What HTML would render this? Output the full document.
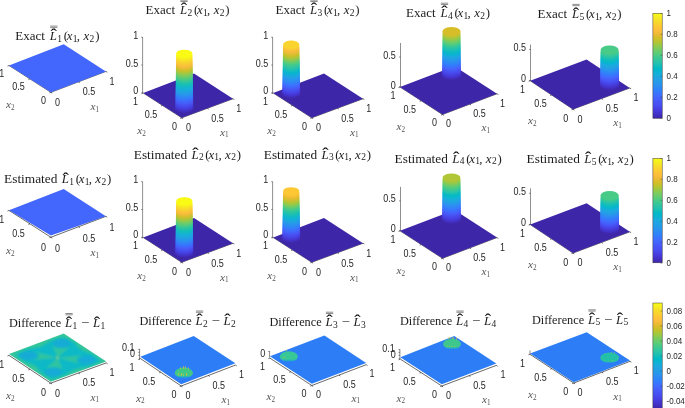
<!DOCTYPE html>
<html><head><meta charset="utf-8"><title>Exact, estimated and difference surfaces</title>
<style>
html,body{margin:0;padding:0;background:#fff;}
body{width:685px;height:408px;overflow:hidden;}
svg{display:block;}
.tk{font-family:"Liberation Sans",sans-serif;font-size:10.4px;fill:#262626;}
.cb{font-family:"Liberation Sans",sans-serif;font-size:9.4px;fill:#262626;}
.xl{font-family:"Liberation Serif",serif;font-size:11.2px;fill:#555;}
.it{font-style:italic;}
.sb{font-size:7.2px;font-style:normal;}
.ti{font-family:"Liberation Serif",serif;font-size:12.8px;fill:#1c1c1c;}
.tsb{font-family:"Liberation Serif",serif;font-size:9.5px;fill:#1c1c1c;font-style:normal;}
.hat{font-family:"Liberation Serif",serif;font-size:12.8px;fill:#000;}
</style></head><body>
<svg width="685" height="408" viewBox="0 0 685 408">
<defs><filter id="bl2" x="-10%" y="-30%" width="120%" height="160%"><feGaussianBlur stdDeviation="0.35"/></filter><filter id="bl" x="-5%" y="-5%" width="110%" height="110%"><feGaussianBlur stdDeviation="0.9"/></filter>
<linearGradient id="g1" x1="0" y1="0" x2="0" y2="1"><stop offset="0" stop-color="#f9fb15"/><stop offset="0.08" stop-color="#f7db2b"/><stop offset="0.17" stop-color="#fbbc3d"/><stop offset="0.25" stop-color="#c8c129"/><stop offset="0.33" stop-color="#81cc59"/><stop offset="0.42" stop-color="#3dc990"/><stop offset="0.5" stop-color="#12beb9"/><stop offset="0.58" stop-color="#17aeda"/><stop offset="0.67" stop-color="#2797eb"/><stop offset="0.75" stop-color="#347afd"/><stop offset="0.83" stop-color="#475bf9"/><stop offset="0.92" stop-color="#463de0"/><stop offset="1" stop-color="#3e26a8"/></linearGradient>
<linearGradient id="g1b" gradientUnits="userSpaceOnUse" x1="0" y1="55.94" x2="0" y2="111.63"><stop offset="0" stop-color="#f9fb15"/><stop offset="0.08" stop-color="#f7db2b"/><stop offset="0.17" stop-color="#fbbc3d"/><stop offset="0.25" stop-color="#c8c129"/><stop offset="0.33" stop-color="#81cc59"/><stop offset="0.42" stop-color="#3dc990"/><stop offset="0.5" stop-color="#12beb9"/><stop offset="0.58" stop-color="#17aeda"/><stop offset="0.67" stop-color="#2797eb"/><stop offset="0.75" stop-color="#347afd"/><stop offset="0.83" stop-color="#475bf9"/><stop offset="0.92" stop-color="#463de0"/><stop offset="1" stop-color="#3e26a8"/></linearGradient>
<linearGradient id="g2" x1="0" y1="0" x2="0" y2="1"><stop offset="0" stop-color="#fad42e"/><stop offset="0.08" stop-color="#f8ba3d"/><stop offset="0.17" stop-color="#c8c129"/><stop offset="0.25" stop-color="#88cb53"/><stop offset="0.33" stop-color="#48cb86"/><stop offset="0.42" stop-color="#24c2ae"/><stop offset="0.5" stop-color="#05b6ce"/><stop offset="0.58" stop-color="#21a3e3"/><stop offset="0.67" stop-color="#2d8cf3"/><stop offset="0.75" stop-color="#3d70ff"/><stop offset="0.83" stop-color="#4755f6"/><stop offset="0.92" stop-color="#463adc"/><stop offset="1" stop-color="#3e26a8"/></linearGradient>
<linearGradient id="g2b" gradientUnits="userSpaceOnUse" x1="0" y1="46.74" x2="0" y2="96.75"><stop offset="0" stop-color="#fad42e"/><stop offset="0.08" stop-color="#f8ba3d"/><stop offset="0.17" stop-color="#c8c129"/><stop offset="0.25" stop-color="#88cb53"/><stop offset="0.33" stop-color="#48cb86"/><stop offset="0.42" stop-color="#24c2ae"/><stop offset="0.5" stop-color="#05b6ce"/><stop offset="0.58" stop-color="#21a3e3"/><stop offset="0.67" stop-color="#2d8cf3"/><stop offset="0.75" stop-color="#3d70ff"/><stop offset="0.83" stop-color="#4755f6"/><stop offset="0.92" stop-color="#463adc"/><stop offset="1" stop-color="#3e26a8"/></linearGradient>
<linearGradient id="g3" x1="0" y1="0" x2="0" y2="1"><stop offset="0" stop-color="#d7be28"/><stop offset="0.08" stop-color="#a4c83e"/><stop offset="0.17" stop-color="#6acd6a"/><stop offset="0.25" stop-color="#3ac994"/><stop offset="0.33" stop-color="#1cc0b3"/><stop offset="0.42" stop-color="#06b6ce"/><stop offset="0.5" stop-color="#1fa6e2"/><stop offset="0.58" stop-color="#2a93ee"/><stop offset="0.67" stop-color="#317dfc"/><stop offset="0.75" stop-color="#4564fd"/><stop offset="0.83" stop-color="#484df0"/><stop offset="0.92" stop-color="#4537d6"/><stop offset="1" stop-color="#3e26a8"/></linearGradient>
<linearGradient id="g3b" gradientUnits="userSpaceOnUse" x1="0" y1="33.72" x2="0" y2="78.56"><stop offset="0" stop-color="#d7be28"/><stop offset="0.08" stop-color="#a4c83e"/><stop offset="0.17" stop-color="#6acd6a"/><stop offset="0.25" stop-color="#3ac994"/><stop offset="0.33" stop-color="#1cc0b3"/><stop offset="0.42" stop-color="#06b6ce"/><stop offset="0.5" stop-color="#1fa6e2"/><stop offset="0.58" stop-color="#2a93ee"/><stop offset="0.67" stop-color="#317dfc"/><stop offset="0.75" stop-color="#4564fd"/><stop offset="0.83" stop-color="#484df0"/><stop offset="0.92" stop-color="#4537d6"/><stop offset="1" stop-color="#3e26a8"/></linearGradient>
<linearGradient id="g4" x1="0" y1="0" x2="0" y2="1"><stop offset="0" stop-color="#48cb86"/><stop offset="0.08" stop-color="#2fc5a2"/><stop offset="0.17" stop-color="#12beb9"/><stop offset="0.25" stop-color="#05b6ce"/><stop offset="0.33" stop-color="#1caadf"/><stop offset="0.42" stop-color="#259ce7"/><stop offset="0.5" stop-color="#2d8cf3"/><stop offset="0.58" stop-color="#347afd"/><stop offset="0.67" stop-color="#4367fd"/><stop offset="0.75" stop-color="#4755f6"/><stop offset="0.83" stop-color="#4743e7"/><stop offset="0.92" stop-color="#4433cc"/><stop offset="1" stop-color="#3e26a8"/></linearGradient>
<linearGradient id="g4b" gradientUnits="userSpaceOnUse" x1="0" y1="52.38" x2="0" y2="88.49"><stop offset="0" stop-color="#48cb86"/><stop offset="0.08" stop-color="#2fc5a2"/><stop offset="0.17" stop-color="#12beb9"/><stop offset="0.25" stop-color="#05b6ce"/><stop offset="0.33" stop-color="#1caadf"/><stop offset="0.42" stop-color="#259ce7"/><stop offset="0.5" stop-color="#2d8cf3"/><stop offset="0.58" stop-color="#347afd"/><stop offset="0.67" stop-color="#4367fd"/><stop offset="0.75" stop-color="#4755f6"/><stop offset="0.83" stop-color="#4743e7"/><stop offset="0.92" stop-color="#4433cc"/><stop offset="1" stop-color="#3e26a8"/></linearGradient>
<linearGradient id="g5" gradientUnits="userSpaceOnUse" x1="0" y1="13.3" x2="0" y2="118.3"><stop offset="0" stop-color="#f9fb15"/><stop offset="0.03" stop-color="#f6ef20"/><stop offset="0.06" stop-color="#f5e327"/><stop offset="0.09" stop-color="#f9d62d"/><stop offset="0.12" stop-color="#feca33"/><stop offset="0.16" stop-color="#febe3c"/><stop offset="0.19" stop-color="#f1ba37"/><stop offset="0.22" stop-color="#debc2a"/><stop offset="0.25" stop-color="#c8c129"/><stop offset="0.28" stop-color="#afc637"/><stop offset="0.31" stop-color="#94ca4a"/><stop offset="0.34" stop-color="#77cc60"/><stop offset="0.38" stop-color="#5ccc76"/><stop offset="0.41" stop-color="#44ca8a"/><stop offset="0.44" stop-color="#34c79c"/><stop offset="0.47" stop-color="#28c2ab"/><stop offset="0.5" stop-color="#12beb9"/><stop offset="0.53" stop-color="#01b9c6"/><stop offset="0.56" stop-color="#0cb3d3"/><stop offset="0.59" stop-color="#1aacdd"/><stop offset="0.62" stop-color="#21a3e3"/><stop offset="0.66" stop-color="#269ae9"/><stop offset="0.69" stop-color="#2c90f0"/><stop offset="0.72" stop-color="#2e85f8"/><stop offset="0.75" stop-color="#347afd"/><stop offset="0.78" stop-color="#3f6efe"/><stop offset="0.81" stop-color="#4562fc"/><stop offset="0.84" stop-color="#4757f7"/><stop offset="0.88" stop-color="#484cef"/><stop offset="0.91" stop-color="#4741e5"/><stop offset="0.94" stop-color="#4536d5"/><stop offset="0.97" stop-color="#422ebf"/><stop offset="1" stop-color="#3e26a8"/></linearGradient>
<linearGradient id="g6" x1="0" y1="0" x2="0" y2="1"><stop offset="0" stop-color="#f9fb15"/><stop offset="0.08" stop-color="#f7db2b"/><stop offset="0.17" stop-color="#fbbc3d"/><stop offset="0.25" stop-color="#c8c129"/><stop offset="0.33" stop-color="#81cc59"/><stop offset="0.42" stop-color="#3dc990"/><stop offset="0.5" stop-color="#12beb9"/><stop offset="0.58" stop-color="#17aeda"/><stop offset="0.67" stop-color="#2797eb"/><stop offset="0.75" stop-color="#347afd"/><stop offset="0.83" stop-color="#475bf9"/><stop offset="0.92" stop-color="#463de0"/><stop offset="1" stop-color="#3e26a8"/></linearGradient>
<linearGradient id="g6b" gradientUnits="userSpaceOnUse" x1="0" y1="203.44" x2="0" y2="256.13"><stop offset="0" stop-color="#f9fb15"/><stop offset="0.08" stop-color="#f7db2b"/><stop offset="0.17" stop-color="#fbbc3d"/><stop offset="0.25" stop-color="#c8c129"/><stop offset="0.33" stop-color="#81cc59"/><stop offset="0.42" stop-color="#3dc990"/><stop offset="0.5" stop-color="#12beb9"/><stop offset="0.58" stop-color="#17aeda"/><stop offset="0.67" stop-color="#2797eb"/><stop offset="0.75" stop-color="#347afd"/><stop offset="0.83" stop-color="#475bf9"/><stop offset="0.92" stop-color="#463de0"/><stop offset="1" stop-color="#3e26a8"/></linearGradient>
<linearGradient id="g7" x1="0" y1="0" x2="0" y2="1"><stop offset="0" stop-color="#fec835"/><stop offset="0.08" stop-color="#e9bb2f"/><stop offset="0.17" stop-color="#b4c533"/><stop offset="0.25" stop-color="#73cd63"/><stop offset="0.33" stop-color="#3bc992"/><stop offset="0.42" stop-color="#18bfb6"/><stop offset="0.5" stop-color="#0eb3d4"/><stop offset="0.58" stop-color="#249fe5"/><stop offset="0.67" stop-color="#2d88f6"/><stop offset="0.75" stop-color="#3f6dfe"/><stop offset="0.83" stop-color="#4853f5"/><stop offset="0.92" stop-color="#463ada"/><stop offset="1" stop-color="#3e26a8"/></linearGradient>
<linearGradient id="g7b" gradientUnits="userSpaceOnUse" x1="0" y1="193.44" x2="0" y2="241.25"><stop offset="0" stop-color="#fec835"/><stop offset="0.08" stop-color="#e9bb2f"/><stop offset="0.17" stop-color="#b4c533"/><stop offset="0.25" stop-color="#73cd63"/><stop offset="0.33" stop-color="#3bc992"/><stop offset="0.42" stop-color="#18bfb6"/><stop offset="0.5" stop-color="#0eb3d4"/><stop offset="0.58" stop-color="#249fe5"/><stop offset="0.67" stop-color="#2d88f6"/><stop offset="0.75" stop-color="#3f6dfe"/><stop offset="0.83" stop-color="#4853f5"/><stop offset="0.92" stop-color="#463ada"/><stop offset="1" stop-color="#3e26a8"/></linearGradient>
<linearGradient id="g8" x1="0" y1="0" x2="0" y2="1"><stop offset="0" stop-color="#b0c636"/><stop offset="0.08" stop-color="#7acc5d"/><stop offset="0.17" stop-color="#48cb86"/><stop offset="0.25" stop-color="#2cc4a7"/><stop offset="0.33" stop-color="#04bbc2"/><stop offset="0.42" stop-color="#15afd9"/><stop offset="0.5" stop-color="#249fe6"/><stop offset="0.58" stop-color="#2d8cf3"/><stop offset="0.67" stop-color="#3876fe"/><stop offset="0.75" stop-color="#465ffb"/><stop offset="0.83" stop-color="#484aee"/><stop offset="0.92" stop-color="#4536d3"/><stop offset="1" stop-color="#3e26a8"/></linearGradient>
<linearGradient id="g8b" gradientUnits="userSpaceOnUse" x1="0" y1="180.22" x2="0" y2="222.36"><stop offset="0" stop-color="#b0c636"/><stop offset="0.08" stop-color="#7acc5d"/><stop offset="0.17" stop-color="#48cb86"/><stop offset="0.25" stop-color="#2cc4a7"/><stop offset="0.33" stop-color="#04bbc2"/><stop offset="0.42" stop-color="#15afd9"/><stop offset="0.5" stop-color="#249fe6"/><stop offset="0.58" stop-color="#2d8cf3"/><stop offset="0.67" stop-color="#3876fe"/><stop offset="0.75" stop-color="#465ffb"/><stop offset="0.83" stop-color="#484aee"/><stop offset="0.92" stop-color="#4536d3"/><stop offset="1" stop-color="#3e26a8"/></linearGradient>
<linearGradient id="g9" x1="0" y1="0" x2="0" y2="1"><stop offset="0" stop-color="#48cb86"/><stop offset="0.08" stop-color="#2fc5a2"/><stop offset="0.17" stop-color="#12beb9"/><stop offset="0.25" stop-color="#05b6ce"/><stop offset="0.33" stop-color="#1caadf"/><stop offset="0.42" stop-color="#259ce7"/><stop offset="0.5" stop-color="#2d8cf3"/><stop offset="0.58" stop-color="#347afd"/><stop offset="0.67" stop-color="#4367fd"/><stop offset="0.75" stop-color="#4755f6"/><stop offset="0.83" stop-color="#4743e7"/><stop offset="0.92" stop-color="#4433cc"/><stop offset="1" stop-color="#3e26a8"/></linearGradient>
<linearGradient id="g9b" gradientUnits="userSpaceOnUse" x1="0" y1="197.88" x2="0" y2="232.34"><stop offset="0" stop-color="#48cb86"/><stop offset="0.08" stop-color="#2fc5a2"/><stop offset="0.17" stop-color="#12beb9"/><stop offset="0.25" stop-color="#05b6ce"/><stop offset="0.33" stop-color="#1caadf"/><stop offset="0.42" stop-color="#259ce7"/><stop offset="0.5" stop-color="#2d8cf3"/><stop offset="0.58" stop-color="#347afd"/><stop offset="0.67" stop-color="#4367fd"/><stop offset="0.75" stop-color="#4755f6"/><stop offset="0.83" stop-color="#4743e7"/><stop offset="0.92" stop-color="#4433cc"/><stop offset="1" stop-color="#3e26a8"/></linearGradient>
<linearGradient id="g10" gradientUnits="userSpaceOnUse" x1="0" y1="158.3" x2="0" y2="262.8"><stop offset="0" stop-color="#f9fb15"/><stop offset="0.03" stop-color="#f6ef20"/><stop offset="0.06" stop-color="#f5e327"/><stop offset="0.09" stop-color="#f9d62d"/><stop offset="0.12" stop-color="#feca33"/><stop offset="0.16" stop-color="#febe3c"/><stop offset="0.19" stop-color="#f1ba37"/><stop offset="0.22" stop-color="#debc2a"/><stop offset="0.25" stop-color="#c8c129"/><stop offset="0.28" stop-color="#afc637"/><stop offset="0.31" stop-color="#94ca4a"/><stop offset="0.34" stop-color="#77cc60"/><stop offset="0.38" stop-color="#5ccc76"/><stop offset="0.41" stop-color="#44ca8a"/><stop offset="0.44" stop-color="#34c79c"/><stop offset="0.47" stop-color="#28c2ab"/><stop offset="0.5" stop-color="#12beb9"/><stop offset="0.53" stop-color="#01b9c6"/><stop offset="0.56" stop-color="#0cb3d3"/><stop offset="0.59" stop-color="#1aacdd"/><stop offset="0.62" stop-color="#21a3e3"/><stop offset="0.66" stop-color="#269ae9"/><stop offset="0.69" stop-color="#2c90f0"/><stop offset="0.72" stop-color="#2e85f8"/><stop offset="0.75" stop-color="#347afd"/><stop offset="0.78" stop-color="#3f6efe"/><stop offset="0.81" stop-color="#4562fc"/><stop offset="0.84" stop-color="#4757f7"/><stop offset="0.88" stop-color="#484cef"/><stop offset="0.91" stop-color="#4741e5"/><stop offset="0.94" stop-color="#4536d5"/><stop offset="0.97" stop-color="#422ebf"/><stop offset="1" stop-color="#3e26a8"/></linearGradient>
<clipPath id="cp1"><polygon points="9,354 63.75,333.5 106.25,361.5 50.75,381.75"/></clipPath>
<linearGradient id="g11" x1="0" y1="0" x2="0" y2="1"><stop offset="0" stop-color="#41c886"/><stop offset="0.74" stop-color="#41c886"/><stop offset="0.87" stop-color="#22b4bf"/><stop offset="1" stop-color="#2d7ef6"/></linearGradient>
<linearGradient id="g12" x1="0" y1="0" x2="0" y2="1"><stop offset="0" stop-color="#38c796"/><stop offset="0.74" stop-color="#38c796"/><stop offset="0.87" stop-color="#22b4bf"/><stop offset="1" stop-color="#2d7ef6"/></linearGradient>
<linearGradient id="g13" x1="0" y1="0" x2="0" y2="1"><stop offset="0" stop-color="#3ec78c"/><stop offset="0.74" stop-color="#3ec78c"/><stop offset="0.87" stop-color="#22b4bf"/><stop offset="1" stop-color="#2d7ef6"/></linearGradient>
<linearGradient id="g14" x1="0" y1="0" x2="0" y2="1"><stop offset="0" stop-color="#24c0a9"/><stop offset="0.79" stop-color="#24c0a9"/><stop offset="0.89" stop-color="#22b4bf"/><stop offset="1" stop-color="#2d7ef6"/></linearGradient>
<linearGradient id="g15" gradientUnits="userSpaceOnUse" x1="0" y1="303" x2="0" y2="408.5"><stop offset="0" stop-color="#f9fb15"/><stop offset="0.03" stop-color="#f6ef20"/><stop offset="0.06" stop-color="#f5e327"/><stop offset="0.09" stop-color="#f9d62d"/><stop offset="0.12" stop-color="#feca33"/><stop offset="0.16" stop-color="#febe3c"/><stop offset="0.19" stop-color="#f1ba37"/><stop offset="0.22" stop-color="#debc2a"/><stop offset="0.25" stop-color="#c8c129"/><stop offset="0.28" stop-color="#afc637"/><stop offset="0.31" stop-color="#94ca4a"/><stop offset="0.34" stop-color="#77cc60"/><stop offset="0.38" stop-color="#5ccc76"/><stop offset="0.41" stop-color="#44ca8a"/><stop offset="0.44" stop-color="#34c79c"/><stop offset="0.47" stop-color="#28c2ab"/><stop offset="0.5" stop-color="#12beb9"/><stop offset="0.53" stop-color="#01b9c6"/><stop offset="0.56" stop-color="#0cb3d3"/><stop offset="0.59" stop-color="#1aacdd"/><stop offset="0.62" stop-color="#21a3e3"/><stop offset="0.66" stop-color="#269ae9"/><stop offset="0.69" stop-color="#2c90f0"/><stop offset="0.72" stop-color="#2e85f8"/><stop offset="0.75" stop-color="#347afd"/><stop offset="0.78" stop-color="#3f6efe"/><stop offset="0.81" stop-color="#4562fc"/><stop offset="0.84" stop-color="#4757f7"/><stop offset="0.88" stop-color="#484cef"/><stop offset="0.91" stop-color="#4741e5"/><stop offset="0.94" stop-color="#4536d5"/><stop offset="0.97" stop-color="#422ebf"/><stop offset="1" stop-color="#3e26a8"/></linearGradient>
</defs>
<rect x="0" y="0" width="685" height="408" fill="#fff"/>
<text x="15.35" y="39.9" class="ti" textLength="29.5" lengthAdjust="spacingAndGlyphs">Exact</text><text x="49.85" y="39.9" class="ti it">L</text><text class="hat" text-anchor="middle" transform="translate(53.75 40.3) scale(1.5 1.3)">ˆ</text><line x1="50.15" y1="27.4" x2="57.45" y2="27.4" stroke="#000" stroke-width="0.45"/><line x1="50.15" y1="26.1" x2="57.45" y2="26.1" stroke="#000" stroke-width="0.45"/><text x="57.35" y="41.7" class="tsb">1</text><text x="63.75" y="39.9" class="ti">(</text><text x="66.85" y="39.9" class="ti it">x</text><text x="72.75" y="41.6" class="tsb">1</text><text x="76.85" y="39.9" class="ti">,</text><text x="83.45" y="39.9" class="ti it">x</text><text x="89.55" y="41.6" class="tsb">2</text><text x="95.15" y="39.9" class="ti">)</text>
<line x1="9" y1="65.5" x2="50.9" y2="92.3" stroke="#2a2a2a" stroke-width="0.7"/>
<line x1="50.9" y1="92.3" x2="105.9" y2="71.4" stroke="#2a2a2a" stroke-width="0.7"/>
<line x1="50.9" y1="92.3" x2="52.25" y2="93.16" stroke="#2a2a2a" stroke-width="0.7"/>
<line x1="50.9" y1="92.3" x2="49.4" y2="92.87" stroke="#2a2a2a" stroke-width="0.7"/>
<line x1="78.4" y1="81.85" x2="79.75" y2="82.71" stroke="#2a2a2a" stroke-width="0.7"/>
<line x1="29.95" y1="78.9" x2="28.45" y2="79.47" stroke="#2a2a2a" stroke-width="0.7"/>
<line x1="105.9" y1="71.4" x2="107.25" y2="72.26" stroke="#2a2a2a" stroke-width="0.7"/>
<line x1="9" y1="65.5" x2="7.5" y2="66.07" stroke="#2a2a2a" stroke-width="0.7"/>
<polygon points="9,65.5 63.7,44.3 105.9,71.4 50.9,92.3" fill="#4367fd"/>
<text transform="translate(1.7 76.5) scale(0.865 1)" text-anchor="middle" class="tk">1</text>
<text transform="translate(18.5 90.2) scale(0.865 1)" text-anchor="middle" class="tk">0.5</text>
<text transform="translate(43.5 104.4) scale(0.865 1)" text-anchor="middle" class="tk">0</text>
<text transform="translate(57.5 105.7) scale(0.865 1)" text-anchor="middle" class="tk">0</text>
<text transform="translate(89 95.3) scale(0.865 1)" text-anchor="middle" class="tk">0.5</text>
<text transform="translate(112 84.8) scale(0.865 1)" text-anchor="middle" class="tk">1</text>
<text x="10.2" y="107.8" text-anchor="middle" class="xl"><tspan class="it">x</tspan><tspan class="sb" dy="1.8">2</tspan></text>
<text x="94.7" y="109.9" text-anchor="middle" class="xl"><tspan class="it">x</tspan><tspan class="sb" dy="1.8">1</tspan></text>
<text x="145.55" y="14" class="ti" textLength="29.5" lengthAdjust="spacingAndGlyphs">Exact</text><text x="180.05" y="14" class="ti it">L</text><text class="hat" text-anchor="middle" transform="translate(183.95 14.4) scale(1.5 1.3)">ˆ</text><line x1="180.35" y1="1.5" x2="187.65" y2="1.5" stroke="#000" stroke-width="0.45"/><line x1="180.35" y1="0.2" x2="187.65" y2="0.2" stroke="#000" stroke-width="0.45"/><text x="187.55" y="15.8" class="tsb">2</text><text x="193.95" y="14" class="ti">(</text><text x="197.05" y="14" class="ti it">x</text><text x="202.95" y="15.7" class="tsb">1</text><text x="207.05" y="14" class="ti">,</text><text x="213.65" y="14" class="ti it">x</text><text x="219.75" y="15.7" class="tsb">2</text><text x="225.35" y="14" class="ti">)</text>
<line x1="142.6" y1="37" x2="142.6" y2="93" stroke="#6a6a6a" stroke-width="0.75"/>
<line x1="141.2" y1="37.2" x2="142.6" y2="37.2" stroke="#444" stroke-width="0.6"/>
<text transform="translate(138.3 39.05) scale(0.865 1)" text-anchor="end" class="tk">1</text>
<line x1="141.2" y1="65" x2="142.6" y2="65" stroke="#444" stroke-width="0.6"/>
<text transform="translate(138.3 67.05) scale(0.865 1)" text-anchor="end" class="tk">0.5</text>
<line x1="141.2" y1="92.8" x2="142.6" y2="92.8" stroke="#444" stroke-width="0.6"/>
<text transform="translate(138.3 94.35) scale(0.865 1)" text-anchor="end" class="tk">0</text>
<line x1="143.25" y1="93" x2="181.75" y2="117.8" stroke="#2a2a2a" stroke-width="0.7"/>
<line x1="181.75" y1="117.8" x2="233" y2="98.75" stroke="#2a2a2a" stroke-width="0.7"/>
<line x1="181.75" y1="117.8" x2="183.1" y2="118.67" stroke="#2a2a2a" stroke-width="0.7"/>
<line x1="181.75" y1="117.8" x2="180.25" y2="118.36" stroke="#2a2a2a" stroke-width="0.7"/>
<line x1="207.38" y1="108.28" x2="208.72" y2="109.14" stroke="#2a2a2a" stroke-width="0.7"/>
<line x1="162.5" y1="105.4" x2="161" y2="105.96" stroke="#2a2a2a" stroke-width="0.7"/>
<line x1="233" y1="98.75" x2="234.35" y2="99.62" stroke="#2a2a2a" stroke-width="0.7"/>
<line x1="143.25" y1="93" x2="141.75" y2="93.56" stroke="#2a2a2a" stroke-width="0.7"/>
<polygon points="143.25,93 194,73.4 233,98.75 181.75,117.8" fill="#3e26a8"/>
<g><path d="M176.5 53.6 L192.1 53.6 L193 109.03 A8.7 4.03 0 0 1 175.6 109.03 Z" fill="url(#g1b)"/><polygon points="176.2,54.58 177.64,54.58 176.9,110.45 175.3,110.45" fill="url(#g1)"/><polygon points="177.1,55.46 178.54,55.46 177.9,111.43 176.3,111.43" fill="url(#g1)"/><polygon points="178,56 179.44,56 178.9,112.03 177.3,112.03" fill="url(#g1)"/><polygon points="178.9,56.39 180.34,56.39 179.9,112.46 178.3,112.46" fill="url(#g1)"/><polygon points="179.8,56.68 181.24,56.68 180.9,112.78 179.3,112.78" fill="url(#g1)"/><polygon points="180.7,56.89 182.14,56.89 181.9,113.02 180.3,113.02" fill="url(#g1)"/><polygon points="181.6,57.05 183.04,57.05 182.9,113.19 181.3,113.19" fill="url(#g1)"/><polygon points="182.5,57.15 183.94,57.15 183.9,113.3 182.3,113.3" fill="url(#g1)"/><polygon points="183.4,57.19 184.84,57.19 184.9,113.36 183.3,113.36" fill="url(#g1)"/><polygon points="184.3,57.19 185.74,57.19 185.9,113.36 184.3,113.36" fill="url(#g1)"/><polygon points="185.2,57.15 186.64,57.15 186.9,113.3 185.3,113.3" fill="url(#g1)"/><polygon points="186.1,57.05 187.54,57.05 187.9,113.19 186.3,113.19" fill="url(#g1)"/><polygon points="187,56.89 188.44,56.89 188.9,113.02 187.3,113.02" fill="url(#g1)"/><polygon points="187.9,56.68 189.34,56.68 189.9,112.78 188.3,112.78" fill="url(#g1)"/><polygon points="188.8,56.39 190.24,56.39 190.9,112.46 189.3,112.46" fill="url(#g1)"/><polygon points="189.7,56 191.14,56 191.9,112.03 190.3,112.03" fill="url(#g1)"/><polygon points="190.6,55.46 192.04,55.46 192.9,111.43 191.3,111.43" fill="url(#g1)"/><polygon points="191.5,54.58 192.4,54.58 193.3,110.45 192.3,110.45" fill="url(#g1)"/><ellipse cx="184.3" cy="53.6" rx="8.1" ry="3.9" fill="#f9fb15"/></g>
<text transform="translate(135.4 104.7) scale(0.865 1)" text-anchor="middle" class="tk">1</text>
<text transform="translate(151 117.75) scale(0.865 1)" text-anchor="middle" class="tk">0.5</text>
<text transform="translate(174.4 130.25) scale(0.865 1)" text-anchor="middle" class="tk">0</text>
<text transform="translate(188.5 131) scale(0.865 1)" text-anchor="middle" class="tk">0</text>
<text transform="translate(217.5 121.5) scale(0.865 1)" text-anchor="middle" class="tk">0.5</text>
<text transform="translate(238.8 111.5) scale(0.865 1)" text-anchor="middle" class="tk">1</text>
<text x="141.6" y="134.4" text-anchor="middle" class="xl"><tspan class="it">x</tspan><tspan class="sb" dy="1.8">2</tspan></text>
<text x="224.4" y="135.65" text-anchor="middle" class="xl"><tspan class="it">x</tspan><tspan class="sb" dy="1.8">1</tspan></text>
<text x="275.55" y="14" class="ti" textLength="29.5" lengthAdjust="spacingAndGlyphs">Exact</text><text x="310.05" y="14" class="ti it">L</text><text class="hat" text-anchor="middle" transform="translate(313.95 14.4) scale(1.5 1.3)">ˆ</text><line x1="310.35" y1="1.5" x2="317.65" y2="1.5" stroke="#000" stroke-width="0.45"/><line x1="310.35" y1="0.2" x2="317.65" y2="0.2" stroke="#000" stroke-width="0.45"/><text x="317.55" y="15.8" class="tsb">3</text><text x="323.95" y="14" class="ti">(</text><text x="327.05" y="14" class="ti it">x</text><text x="332.95" y="15.7" class="tsb">1</text><text x="337.05" y="14" class="ti">,</text><text x="343.65" y="14" class="ti it">x</text><text x="349.75" y="15.7" class="tsb">2</text><text x="355.35" y="14" class="ti">)</text>
<line x1="272.6" y1="37" x2="272.6" y2="93" stroke="#6a6a6a" stroke-width="0.75"/>
<line x1="271.2" y1="37.2" x2="272.6" y2="37.2" stroke="#444" stroke-width="0.6"/>
<text transform="translate(268.3 39.05) scale(0.865 1)" text-anchor="end" class="tk">1</text>
<line x1="271.2" y1="65" x2="272.6" y2="65" stroke="#444" stroke-width="0.6"/>
<text transform="translate(268.3 67.05) scale(0.865 1)" text-anchor="end" class="tk">0.5</text>
<line x1="271.2" y1="92.8" x2="272.6" y2="92.8" stroke="#444" stroke-width="0.6"/>
<text transform="translate(268.3 94.35) scale(0.865 1)" text-anchor="end" class="tk">0</text>
<line x1="273.25" y1="93" x2="311.75" y2="117.8" stroke="#2a2a2a" stroke-width="0.7"/>
<line x1="311.75" y1="117.8" x2="363" y2="98.75" stroke="#2a2a2a" stroke-width="0.7"/>
<line x1="311.75" y1="117.8" x2="313.1" y2="118.67" stroke="#2a2a2a" stroke-width="0.7"/>
<line x1="311.75" y1="117.8" x2="310.25" y2="118.36" stroke="#2a2a2a" stroke-width="0.7"/>
<line x1="337.38" y1="108.28" x2="338.72" y2="109.14" stroke="#2a2a2a" stroke-width="0.7"/>
<line x1="292.5" y1="105.4" x2="291" y2="105.96" stroke="#2a2a2a" stroke-width="0.7"/>
<line x1="363" y1="98.75" x2="364.35" y2="99.62" stroke="#2a2a2a" stroke-width="0.7"/>
<line x1="273.25" y1="93" x2="271.75" y2="93.56" stroke="#2a2a2a" stroke-width="0.7"/>
<polygon points="273.25,93 324,73.4 363,98.75 311.75,117.8" fill="#3e26a8"/>
<g><path d="M283.4 44.4 L299 44.4 L299.9 94.15 A8.7 4.03 0 0 1 282.5 94.15 Z" fill="url(#g2b)"/><polygon points="283.1,45.38 284.54,45.38 283.8,95.57 282.2,95.57" fill="url(#g2)"/><polygon points="284,46.26 285.44,46.26 284.8,96.55 283.2,96.55" fill="url(#g2)"/><polygon points="284.9,46.8 286.34,46.8 285.8,97.15 284.2,97.15" fill="url(#g2)"/><polygon points="285.8,47.19 287.24,47.19 286.8,97.58 285.2,97.58" fill="url(#g2)"/><polygon points="286.7,47.48 288.14,47.48 287.8,97.9 286.2,97.9" fill="url(#g2)"/><polygon points="287.6,47.69 289.04,47.69 288.8,98.14 287.2,98.14" fill="url(#g2)"/><polygon points="288.5,47.85 289.94,47.85 289.8,98.31 288.2,98.31" fill="url(#g2)"/><polygon points="289.4,47.95 290.84,47.95 290.8,98.42 289.2,98.42" fill="url(#g2)"/><polygon points="290.3,47.99 291.74,47.99 291.8,98.48 290.2,98.48" fill="url(#g2)"/><polygon points="291.2,47.99 292.64,47.99 292.8,98.48 291.2,98.48" fill="url(#g2)"/><polygon points="292.1,47.95 293.54,47.95 293.8,98.42 292.2,98.42" fill="url(#g2)"/><polygon points="293,47.85 294.44,47.85 294.8,98.31 293.2,98.31" fill="url(#g2)"/><polygon points="293.9,47.69 295.34,47.69 295.8,98.14 294.2,98.14" fill="url(#g2)"/><polygon points="294.8,47.48 296.24,47.48 296.8,97.9 295.2,97.9" fill="url(#g2)"/><polygon points="295.7,47.19 297.14,47.19 297.8,97.58 296.2,97.58" fill="url(#g2)"/><polygon points="296.6,46.8 298.04,46.8 298.8,97.15 297.2,97.15" fill="url(#g2)"/><polygon points="297.5,46.26 298.94,46.26 299.8,96.55 298.2,96.55" fill="url(#g2)"/><polygon points="298.4,45.38 299.3,45.38 300.2,95.57 299.2,95.57" fill="url(#g2)"/><ellipse cx="291.2" cy="44.4" rx="8.1" ry="3.9" fill="#fad42e"/></g>
<text transform="translate(265.4 104.7) scale(0.865 1)" text-anchor="middle" class="tk">1</text>
<text transform="translate(281 117.75) scale(0.865 1)" text-anchor="middle" class="tk">0.5</text>
<text transform="translate(304.4 130.25) scale(0.865 1)" text-anchor="middle" class="tk">0</text>
<text transform="translate(318.5 131) scale(0.865 1)" text-anchor="middle" class="tk">0</text>
<text transform="translate(347.5 121.5) scale(0.865 1)" text-anchor="middle" class="tk">0.5</text>
<text transform="translate(368.8 111.5) scale(0.865 1)" text-anchor="middle" class="tk">1</text>
<text x="271.6" y="134.4" text-anchor="middle" class="xl"><tspan class="it">x</tspan><tspan class="sb" dy="1.8">2</tspan></text>
<text x="354.4" y="135.65" text-anchor="middle" class="xl"><tspan class="it">x</tspan><tspan class="sb" dy="1.8">1</tspan></text>
<text x="406.05" y="17" class="ti" textLength="29.5" lengthAdjust="spacingAndGlyphs">Exact</text><text x="440.55" y="17" class="ti it">L</text><text class="hat" text-anchor="middle" transform="translate(444.45 17.4) scale(1.5 1.3)">ˆ</text><line x1="440.85" y1="4.5" x2="448.15" y2="4.5" stroke="#000" stroke-width="0.45"/><line x1="440.85" y1="3.2" x2="448.15" y2="3.2" stroke="#000" stroke-width="0.45"/><text x="448.05" y="18.8" class="tsb">4</text><text x="454.45" y="17" class="ti">(</text><text x="457.55" y="17" class="ti it">x</text><text x="463.45" y="18.7" class="tsb">1</text><text x="467.55" y="17" class="ti">,</text><text x="474.15" y="17" class="ti it">x</text><text x="480.25" y="18.7" class="tsb">2</text><text x="485.85" y="17" class="ti">)</text>
<line x1="400.5" y1="43" x2="400.5" y2="87" stroke="#6a6a6a" stroke-width="0.75"/>
<line x1="399.1" y1="57" x2="400.5" y2="57" stroke="#444" stroke-width="0.6"/>
<text transform="translate(395.7 58.55) scale(0.865 1)" text-anchor="end" class="tk">0.5</text>
<line x1="399.1" y1="86.8" x2="400.5" y2="86.8" stroke="#444" stroke-width="0.6"/>
<text transform="translate(395.7 88.55) scale(0.865 1)" text-anchor="end" class="tk">0</text>
<line x1="400" y1="87" x2="442.5" y2="114.5" stroke="#2a2a2a" stroke-width="0.7"/>
<line x1="442.5" y1="114.5" x2="497" y2="93.75" stroke="#2a2a2a" stroke-width="0.7"/>
<line x1="442.5" y1="114.5" x2="443.84" y2="115.37" stroke="#2a2a2a" stroke-width="0.7"/>
<line x1="442.5" y1="114.5" x2="441" y2="115.07" stroke="#2a2a2a" stroke-width="0.7"/>
<line x1="469.75" y1="104.12" x2="471.09" y2="104.99" stroke="#2a2a2a" stroke-width="0.7"/>
<line x1="421.25" y1="100.75" x2="419.75" y2="101.32" stroke="#2a2a2a" stroke-width="0.7"/>
<line x1="497" y1="93.75" x2="498.34" y2="94.62" stroke="#2a2a2a" stroke-width="0.7"/>
<line x1="400" y1="87" x2="398.5" y2="87.57" stroke="#2a2a2a" stroke-width="0.7"/>
<polygon points="400,87 454.5,66.25 497,93.75 442.5,114.5" fill="#3e26a8"/>
<g><path d="M442.9 31.2 L460.1 31.2 L460.6 75.9 A9.1 4.14 0 0 1 442.4 75.9 Z" fill="url(#g3b)"/><polygon points="442.6,32.24 444.1,32.24 443.69,77.32 442.1,77.32" fill="url(#g3)"/><polygon points="443.54,33.17 445.04,33.17 444.68,78.29 443.09,78.29" fill="url(#g3)"/><polygon points="444.47,33.74 445.98,33.74 445.67,78.9 444.08,78.9" fill="url(#g3)"/><polygon points="445.41,34.16 446.92,34.16 446.66,79.34 445.07,79.34" fill="url(#g3)"/><polygon points="446.35,34.47 447.85,34.47 447.65,79.67 446.06,79.67" fill="url(#g3)"/><polygon points="447.28,34.71 448.79,34.71 448.64,79.92 447.05,79.92" fill="url(#g3)"/><polygon points="448.22,34.89 449.73,34.89 449.63,80.11 448.04,80.11" fill="url(#g3)"/><polygon points="449.16,35.01 450.66,35.01 450.62,80.24 449.03,80.24" fill="url(#g3)"/><polygon points="450.09,35.08 451.6,35.08 451.61,80.31 450.02,80.31" fill="url(#g3)"/><polygon points="451.03,35.1 452.54,35.1 452.59,80.34 451.01,80.34" fill="url(#g3)"/><polygon points="451.97,35.08 453.47,35.08 453.58,80.31 451.99,80.31" fill="url(#g3)"/><polygon points="452.91,35.01 454.41,35.01 454.57,80.24 452.98,80.24" fill="url(#g3)"/><polygon points="453.84,34.89 455.35,34.89 455.56,80.11 453.97,80.11" fill="url(#g3)"/><polygon points="454.78,34.71 456.28,34.71 456.55,79.92 454.96,79.92" fill="url(#g3)"/><polygon points="455.72,34.47 457.22,34.47 457.54,79.67 455.95,79.67" fill="url(#g3)"/><polygon points="456.65,34.16 458.16,34.16 458.53,79.34 456.94,79.34" fill="url(#g3)"/><polygon points="457.59,33.74 459.09,33.74 459.52,78.9 457.93,78.9" fill="url(#g3)"/><polygon points="458.53,33.17 460.03,33.17 460.51,78.29 458.92,78.29" fill="url(#g3)"/><polygon points="459.46,32.24 460.4,32.24 460.9,77.32 459.91,77.32" fill="url(#g3)"/><ellipse cx="451.5" cy="31.2" rx="8.9" ry="4.2" fill="#d7be28"/></g>
<text transform="translate(392.9 99) scale(0.865 1)" text-anchor="middle" class="tk">1</text>
<text transform="translate(409.75 113) scale(0.865 1)" text-anchor="middle" class="tk">0.5</text>
<text transform="translate(434.4 126) scale(0.865 1)" text-anchor="middle" class="tk">0</text>
<text transform="translate(448.5 127.25) scale(0.865 1)" text-anchor="middle" class="tk">0</text>
<text transform="translate(479.4 117.25) scale(0.865 1)" text-anchor="middle" class="tk">0.5</text>
<text transform="translate(502.4 106.75) scale(0.865 1)" text-anchor="middle" class="tk">1</text>
<text x="400.9" y="129.9" text-anchor="middle" class="xl"><tspan class="it">x</tspan><tspan class="sb" dy="1.8">2</tspan></text>
<text x="485.9" y="131.15" text-anchor="middle" class="xl"><tspan class="it">x</tspan><tspan class="sb" dy="1.8">1</tspan></text>
<text x="537.55" y="18.2" class="ti" textLength="29.5" lengthAdjust="spacingAndGlyphs">Exact</text><text x="572.05" y="18.2" class="ti it">L</text><text class="hat" text-anchor="middle" transform="translate(575.95 18.6) scale(1.5 1.3)">ˆ</text><line x1="572.35" y1="5.7" x2="579.65" y2="5.7" stroke="#000" stroke-width="0.45"/><line x1="572.35" y1="4.4" x2="579.65" y2="4.4" stroke="#000" stroke-width="0.45"/><text x="579.55" y="20" class="tsb">5</text><text x="585.95" y="18.2" class="ti">(</text><text x="589.05" y="18.2" class="ti it">x</text><text x="594.95" y="19.9" class="tsb">1</text><text x="599.05" y="18.2" class="ti">,</text><text x="605.65" y="18.2" class="ti it">x</text><text x="611.75" y="19.9" class="tsb">2</text><text x="617.35" y="18.2" class="ti">)</text>
<line x1="530.5" y1="44.5" x2="530.5" y2="80.9" stroke="#6a6a6a" stroke-width="0.75"/>
<line x1="529.1" y1="49.5" x2="530.5" y2="49.5" stroke="#444" stroke-width="0.6"/>
<text transform="translate(525.9 50.95) scale(0.865 1)" text-anchor="end" class="tk">0.5</text>
<line x1="529.1" y1="80.6" x2="530.5" y2="80.6" stroke="#444" stroke-width="0.6"/>
<text transform="translate(525.9 82.15) scale(0.865 1)" text-anchor="end" class="tk">0</text>
<line x1="530.2" y1="80.7" x2="573" y2="109.2" stroke="#2a2a2a" stroke-width="0.7"/>
<line x1="573" y1="109.2" x2="629.8" y2="88" stroke="#2a2a2a" stroke-width="0.7"/>
<line x1="573" y1="109.2" x2="574.33" y2="110.09" stroke="#2a2a2a" stroke-width="0.7"/>
<line x1="573" y1="109.2" x2="571.5" y2="109.76" stroke="#2a2a2a" stroke-width="0.7"/>
<line x1="601.4" y1="98.6" x2="602.73" y2="99.49" stroke="#2a2a2a" stroke-width="0.7"/>
<line x1="551.6" y1="94.95" x2="550.1" y2="95.51" stroke="#2a2a2a" stroke-width="0.7"/>
<line x1="629.8" y1="88" x2="631.13" y2="88.89" stroke="#2a2a2a" stroke-width="0.7"/>
<line x1="530.2" y1="80.7" x2="528.7" y2="81.26" stroke="#2a2a2a" stroke-width="0.7"/>
<polygon points="530.2,80.7 586.6,59.5 629.8,88 573,109.2" fill="#3e26a8"/>
<g><path d="M600.9 49.8 L618.3 49.8 L618.9 85.74 A9.3 4.29 0 0 1 600.3 85.74 Z" fill="url(#g4b)"/><polygon points="600.6,50.88 602.11,50.88 601.61,87.21 600,87.21" fill="url(#g4)"/><polygon points="601.55,51.82 603.06,51.82 602.62,88.21 601.01,88.21" fill="url(#g4)"/><polygon points="602.49,52.41 604,52.41 603.63,88.84 602.02,88.84" fill="url(#g4)"/><polygon points="603.44,52.83 604.95,52.83 604.64,89.3 603.03,89.3" fill="url(#g4)"/><polygon points="604.39,53.16 605.9,53.16 605.65,89.64 604.04,89.64" fill="url(#g4)"/><polygon points="605.34,53.4 606.85,53.4 606.66,89.9 605.05,89.9" fill="url(#g4)"/><polygon points="606.28,53.58 607.79,53.58 607.67,90.09 606.06,90.09" fill="url(#g4)"/><polygon points="607.23,53.7 608.74,53.7 608.68,90.22 607.07,90.22" fill="url(#g4)"/><polygon points="608.18,53.78 609.69,53.78 609.69,90.3 608.08,90.3" fill="url(#g4)"/><polygon points="609.13,53.8 610.64,53.8 610.71,90.33 609.09,90.33" fill="url(#g4)"/><polygon points="610.07,53.78 611.58,53.78 611.72,90.3 610.11,90.3" fill="url(#g4)"/><polygon points="611.02,53.7 612.53,53.7 612.73,90.22 611.12,90.22" fill="url(#g4)"/><polygon points="611.97,53.58 613.48,53.58 613.74,90.09 612.13,90.09" fill="url(#g4)"/><polygon points="612.92,53.4 614.43,53.4 614.75,89.9 613.14,89.9" fill="url(#g4)"/><polygon points="613.86,53.16 615.37,53.16 615.76,89.64 614.15,89.64" fill="url(#g4)"/><polygon points="614.81,52.83 616.32,52.83 616.77,89.3 615.16,89.3" fill="url(#g4)"/><polygon points="615.76,52.41 617.27,52.41 617.78,88.84 616.17,88.84" fill="url(#g4)"/><polygon points="616.71,51.82 618.22,51.82 618.79,88.21 617.18,88.21" fill="url(#g4)"/><polygon points="617.65,50.88 618.6,50.88 619.2,87.21 618.19,87.21" fill="url(#g4)"/><ellipse cx="609.6" cy="49.8" rx="9" ry="4.3" fill="#48cb86"/></g>
<text transform="translate(522.5 92.9) scale(0.865 1)" text-anchor="middle" class="tk">1</text>
<text transform="translate(540.6 107.25) scale(0.865 1)" text-anchor="middle" class="tk">0.5</text>
<text transform="translate(565.75 121.7) scale(0.865 1)" text-anchor="middle" class="tk">0</text>
<text transform="translate(580 122.6) scale(0.865 1)" text-anchor="middle" class="tk">0</text>
<text transform="translate(612 111.7) scale(0.865 1)" text-anchor="middle" class="tk">0.5</text>
<text transform="translate(636.1 101.3) scale(0.865 1)" text-anchor="middle" class="tk">1</text>
<text x="532.25" y="124.4" text-anchor="middle" class="xl"><tspan class="it">x</tspan><tspan class="sb" dy="1.8">2</tspan></text>
<text x="617.5" y="126.15" text-anchor="middle" class="xl"><tspan class="it">x</tspan><tspan class="sb" dy="1.8">1</tspan></text>
<rect x="652.9" y="13.3" width="9.3" height="105" fill="url(#g5)" stroke="#3a3a3a" stroke-width="0.5"/>
<line x1="660.6" y1="13.5" x2="662.2" y2="13.5" stroke="#3a3a3a" stroke-width="0.5"/>
<text transform="translate(666.6 16.1) scale(0.85 1)" class="cb">1</text>
<line x1="660.6" y1="34.3" x2="662.2" y2="34.3" stroke="#3a3a3a" stroke-width="0.5"/>
<text transform="translate(666.6 36.9) scale(0.85 1)" class="cb">0.8</text>
<line x1="660.6" y1="55.3" x2="662.2" y2="55.3" stroke="#3a3a3a" stroke-width="0.5"/>
<text transform="translate(666.6 57.9) scale(0.85 1)" class="cb">0.6</text>
<line x1="660.6" y1="76.3" x2="662.2" y2="76.3" stroke="#3a3a3a" stroke-width="0.5"/>
<text transform="translate(666.6 78.9) scale(0.85 1)" class="cb">0.4</text>
<line x1="660.6" y1="97.3" x2="662.2" y2="97.3" stroke="#3a3a3a" stroke-width="0.5"/>
<text transform="translate(666.6 99.9) scale(0.85 1)" class="cb">0.2</text>
<line x1="660.6" y1="118.1" x2="662.2" y2="118.1" stroke="#3a3a3a" stroke-width="0.5"/>
<text transform="translate(666.6 120.7) scale(0.85 1)" class="cb">0</text>
<text x="4.05" y="183.2" class="ti" textLength="53.4" lengthAdjust="spacingAndGlyphs">Estimated</text><text x="61.75" y="183.2" class="ti it">L</text><text class="hat" text-anchor="middle" transform="translate(65.65 183.6) scale(1.5 1.3)">ˆ</text><text x="69.25" y="185" class="tsb">1</text><text x="75.65" y="183.2" class="ti">(</text><text x="78.75" y="183.2" class="ti it">x</text><text x="84.65" y="184.9" class="tsb">1</text><text x="88.75" y="183.2" class="ti">,</text><text x="95.35" y="183.2" class="ti it">x</text><text x="101.45" y="184.9" class="tsb">2</text><text x="107.05" y="183.2" class="ti">)</text>
<line x1="9" y1="210.45" x2="50.9" y2="237.25" stroke="#2a2a2a" stroke-width="0.7"/>
<line x1="50.9" y1="237.25" x2="105.9" y2="216.35" stroke="#2a2a2a" stroke-width="0.7"/>
<line x1="50.9" y1="237.25" x2="52.25" y2="238.11" stroke="#2a2a2a" stroke-width="0.7"/>
<line x1="50.9" y1="237.25" x2="49.4" y2="237.82" stroke="#2a2a2a" stroke-width="0.7"/>
<line x1="78.4" y1="226.8" x2="79.75" y2="227.66" stroke="#2a2a2a" stroke-width="0.7"/>
<line x1="29.95" y1="223.85" x2="28.45" y2="224.42" stroke="#2a2a2a" stroke-width="0.7"/>
<line x1="105.9" y1="216.35" x2="107.25" y2="217.21" stroke="#2a2a2a" stroke-width="0.7"/>
<line x1="9" y1="210.45" x2="7.5" y2="211.02" stroke="#2a2a2a" stroke-width="0.7"/>
<polygon points="9,210.25 63.7,189.05 105.9,216.15 50.9,235.55" fill="#4367fd"/>
<text transform="translate(1.7 222.85) scale(0.865 1)" text-anchor="middle" class="tk">1</text>
<text transform="translate(18.5 236.55) scale(0.865 1)" text-anchor="middle" class="tk">0.5</text>
<text transform="translate(43.5 250.75) scale(0.865 1)" text-anchor="middle" class="tk">0</text>
<text transform="translate(57.5 252.05) scale(0.865 1)" text-anchor="middle" class="tk">0</text>
<text transform="translate(89 241.65) scale(0.865 1)" text-anchor="middle" class="tk">0.5</text>
<text transform="translate(112 231.15) scale(0.865 1)" text-anchor="middle" class="tk">1</text>
<text x="10.2" y="254.15" text-anchor="middle" class="xl"><tspan class="it">x</tspan><tspan class="sb" dy="1.8">2</tspan></text>
<text x="94.7" y="256.25" text-anchor="middle" class="xl"><tspan class="it">x</tspan><tspan class="sb" dy="1.8">1</tspan></text>
<text x="133.75" y="158.5" class="ti" textLength="53.4" lengthAdjust="spacingAndGlyphs">Estimated</text><text x="191.45" y="158.5" class="ti it">L</text><text class="hat" text-anchor="middle" transform="translate(195.35 158.9) scale(1.5 1.3)">ˆ</text><text x="198.95" y="160.3" class="tsb">2</text><text x="205.35" y="158.5" class="ti">(</text><text x="208.45" y="158.5" class="ti it">x</text><text x="214.35" y="160.2" class="tsb">1</text><text x="218.45" y="158.5" class="ti">,</text><text x="225.05" y="158.5" class="ti it">x</text><text x="231.15" y="160.2" class="tsb">2</text><text x="236.75" y="158.5" class="ti">)</text>
<line x1="142.6" y1="181.5" x2="142.6" y2="237.5" stroke="#6a6a6a" stroke-width="0.75"/>
<line x1="141.2" y1="181.7" x2="142.6" y2="181.7" stroke="#444" stroke-width="0.6"/>
<text transform="translate(138.3 182.85) scale(0.865 1)" text-anchor="end" class="tk">1</text>
<line x1="141.2" y1="209.5" x2="142.6" y2="209.5" stroke="#444" stroke-width="0.6"/>
<text transform="translate(138.3 210.85) scale(0.865 1)" text-anchor="end" class="tk">0.5</text>
<line x1="141.2" y1="237.3" x2="142.6" y2="237.3" stroke="#444" stroke-width="0.6"/>
<text transform="translate(138.3 238.15) scale(0.865 1)" text-anchor="end" class="tk">0</text>
<line x1="143.25" y1="237.5" x2="181.75" y2="262.3" stroke="#2a2a2a" stroke-width="0.7"/>
<line x1="181.75" y1="262.3" x2="233" y2="243.25" stroke="#2a2a2a" stroke-width="0.7"/>
<line x1="181.75" y1="262.3" x2="183.1" y2="263.17" stroke="#2a2a2a" stroke-width="0.7"/>
<line x1="181.75" y1="262.3" x2="180.25" y2="262.86" stroke="#2a2a2a" stroke-width="0.7"/>
<line x1="207.38" y1="252.78" x2="208.72" y2="253.64" stroke="#2a2a2a" stroke-width="0.7"/>
<line x1="162.5" y1="249.9" x2="161" y2="250.46" stroke="#2a2a2a" stroke-width="0.7"/>
<line x1="233" y1="243.25" x2="234.35" y2="244.12" stroke="#2a2a2a" stroke-width="0.7"/>
<line x1="143.25" y1="237.5" x2="141.75" y2="238.06" stroke="#2a2a2a" stroke-width="0.7"/>
<polygon points="143.25,237.5 194,217.9 233,243.25 181.75,262.3" fill="#3e26a8"/>
<g><path d="M176.5 201.1 L192.1 201.1 L193 253.53 A8.7 4.03 0 0 1 175.6 253.53 Z" fill="url(#g6b)"/><polygon points="176.2,202.08 177.64,202.08 176.9,254.95 175.3,254.95" fill="url(#g6)"/><polygon points="177.1,202.96 178.54,202.96 177.9,255.93 176.3,255.93" fill="url(#g6)"/><polygon points="178,203.5 179.44,203.5 178.9,256.53 177.3,256.53" fill="url(#g6)"/><polygon points="178.9,203.89 180.34,203.89 179.9,256.96 178.3,256.96" fill="url(#g6)"/><polygon points="179.8,204.18 181.24,204.18 180.9,257.28 179.3,257.28" fill="url(#g6)"/><polygon points="180.7,204.39 182.14,204.39 181.9,257.52 180.3,257.52" fill="url(#g6)"/><polygon points="181.6,204.55 183.04,204.55 182.9,257.69 181.3,257.69" fill="url(#g6)"/><polygon points="182.5,204.65 183.94,204.65 183.9,257.8 182.3,257.8" fill="url(#g6)"/><polygon points="183.4,204.69 184.84,204.69 184.9,257.86 183.3,257.86" fill="url(#g6)"/><polygon points="184.3,204.69 185.74,204.69 185.9,257.86 184.3,257.86" fill="url(#g6)"/><polygon points="185.2,204.65 186.64,204.65 186.9,257.8 185.3,257.8" fill="url(#g6)"/><polygon points="186.1,204.55 187.54,204.55 187.9,257.69 186.3,257.69" fill="url(#g6)"/><polygon points="187,204.39 188.44,204.39 188.9,257.52 187.3,257.52" fill="url(#g6)"/><polygon points="187.9,204.18 189.34,204.18 189.9,257.28 188.3,257.28" fill="url(#g6)"/><polygon points="188.8,203.89 190.24,203.89 190.9,256.96 189.3,256.96" fill="url(#g6)"/><polygon points="189.7,203.5 191.14,203.5 191.9,256.53 190.3,256.53" fill="url(#g6)"/><polygon points="190.6,202.96 192.04,202.96 192.9,255.93 191.3,255.93" fill="url(#g6)"/><polygon points="191.5,202.08 192.4,202.08 193.3,254.95 192.3,254.95" fill="url(#g6)"/><ellipse cx="184.3" cy="201.1" rx="8.1" ry="3.9" fill="#f9fb15"/></g>
<text transform="translate(135.4 248.5) scale(0.865 1)" text-anchor="middle" class="tk">1</text>
<text transform="translate(151 262.75) scale(0.865 1)" text-anchor="middle" class="tk">0.5</text>
<text transform="translate(174.4 275.25) scale(0.865 1)" text-anchor="middle" class="tk">0</text>
<text transform="translate(188.5 276) scale(0.865 1)" text-anchor="middle" class="tk">0</text>
<text transform="translate(217.5 266.5) scale(0.865 1)" text-anchor="middle" class="tk">0.5</text>
<text transform="translate(238.8 256.5) scale(0.865 1)" text-anchor="middle" class="tk">1</text>
<text x="141.6" y="279.4" text-anchor="middle" class="xl"><tspan class="it">x</tspan><tspan class="sb" dy="1.8">2</tspan></text>
<text x="224.4" y="280.65" text-anchor="middle" class="xl"><tspan class="it">x</tspan><tspan class="sb" dy="1.8">1</tspan></text>
<text x="263.75" y="158.5" class="ti" textLength="53.4" lengthAdjust="spacingAndGlyphs">Estimated</text><text x="321.45" y="158.5" class="ti it">L</text><text class="hat" text-anchor="middle" transform="translate(325.35 158.9) scale(1.5 1.3)">ˆ</text><text x="328.95" y="160.3" class="tsb">3</text><text x="335.35" y="158.5" class="ti">(</text><text x="338.45" y="158.5" class="ti it">x</text><text x="344.35" y="160.2" class="tsb">1</text><text x="348.45" y="158.5" class="ti">,</text><text x="355.05" y="158.5" class="ti it">x</text><text x="361.15" y="160.2" class="tsb">2</text><text x="366.75" y="158.5" class="ti">)</text>
<line x1="272.6" y1="181.5" x2="272.6" y2="237.5" stroke="#6a6a6a" stroke-width="0.75"/>
<line x1="271.2" y1="181.7" x2="272.6" y2="181.7" stroke="#444" stroke-width="0.6"/>
<text transform="translate(268.3 182.85) scale(0.865 1)" text-anchor="end" class="tk">1</text>
<line x1="271.2" y1="209.5" x2="272.6" y2="209.5" stroke="#444" stroke-width="0.6"/>
<text transform="translate(268.3 210.85) scale(0.865 1)" text-anchor="end" class="tk">0.5</text>
<line x1="271.2" y1="237.3" x2="272.6" y2="237.3" stroke="#444" stroke-width="0.6"/>
<text transform="translate(268.3 238.15) scale(0.865 1)" text-anchor="end" class="tk">0</text>
<line x1="273.25" y1="237.5" x2="311.75" y2="262.3" stroke="#2a2a2a" stroke-width="0.7"/>
<line x1="311.75" y1="262.3" x2="363" y2="243.25" stroke="#2a2a2a" stroke-width="0.7"/>
<line x1="311.75" y1="262.3" x2="313.1" y2="263.17" stroke="#2a2a2a" stroke-width="0.7"/>
<line x1="311.75" y1="262.3" x2="310.25" y2="262.86" stroke="#2a2a2a" stroke-width="0.7"/>
<line x1="337.38" y1="252.78" x2="338.72" y2="253.64" stroke="#2a2a2a" stroke-width="0.7"/>
<line x1="292.5" y1="249.9" x2="291" y2="250.46" stroke="#2a2a2a" stroke-width="0.7"/>
<line x1="363" y1="243.25" x2="364.35" y2="244.12" stroke="#2a2a2a" stroke-width="0.7"/>
<line x1="273.25" y1="237.5" x2="271.75" y2="238.06" stroke="#2a2a2a" stroke-width="0.7"/>
<polygon points="273.25,237.5 324,217.9 363,243.25 311.75,262.3" fill="#3e26a8"/>
<g><path d="M283.4 191.1 L299 191.1 L299.9 238.65 A8.7 4.03 0 0 1 282.5 238.65 Z" fill="url(#g7b)"/><polygon points="283.1,192.08 284.54,192.08 283.8,240.07 282.2,240.07" fill="url(#g7)"/><polygon points="284,192.96 285.44,192.96 284.8,241.05 283.2,241.05" fill="url(#g7)"/><polygon points="284.9,193.5 286.34,193.5 285.8,241.65 284.2,241.65" fill="url(#g7)"/><polygon points="285.8,193.89 287.24,193.89 286.8,242.08 285.2,242.08" fill="url(#g7)"/><polygon points="286.7,194.18 288.14,194.18 287.8,242.4 286.2,242.4" fill="url(#g7)"/><polygon points="287.6,194.39 289.04,194.39 288.8,242.64 287.2,242.64" fill="url(#g7)"/><polygon points="288.5,194.55 289.94,194.55 289.8,242.81 288.2,242.81" fill="url(#g7)"/><polygon points="289.4,194.65 290.84,194.65 290.8,242.92 289.2,242.92" fill="url(#g7)"/><polygon points="290.3,194.69 291.74,194.69 291.8,242.98 290.2,242.98" fill="url(#g7)"/><polygon points="291.2,194.69 292.64,194.69 292.8,242.98 291.2,242.98" fill="url(#g7)"/><polygon points="292.1,194.65 293.54,194.65 293.8,242.92 292.2,242.92" fill="url(#g7)"/><polygon points="293,194.55 294.44,194.55 294.8,242.81 293.2,242.81" fill="url(#g7)"/><polygon points="293.9,194.39 295.34,194.39 295.8,242.64 294.2,242.64" fill="url(#g7)"/><polygon points="294.8,194.18 296.24,194.18 296.8,242.4 295.2,242.4" fill="url(#g7)"/><polygon points="295.7,193.89 297.14,193.89 297.8,242.08 296.2,242.08" fill="url(#g7)"/><polygon points="296.6,193.5 298.04,193.5 298.8,241.65 297.2,241.65" fill="url(#g7)"/><polygon points="297.5,192.96 298.94,192.96 299.8,241.05 298.2,241.05" fill="url(#g7)"/><polygon points="298.4,192.08 299.3,192.08 300.2,240.07 299.2,240.07" fill="url(#g7)"/><ellipse cx="291.2" cy="191.1" rx="8.1" ry="3.9" fill="#fec835"/></g>
<text transform="translate(265.4 248.5) scale(0.865 1)" text-anchor="middle" class="tk">1</text>
<text transform="translate(281 262.75) scale(0.865 1)" text-anchor="middle" class="tk">0.5</text>
<text transform="translate(304.4 275.25) scale(0.865 1)" text-anchor="middle" class="tk">0</text>
<text transform="translate(318.5 276) scale(0.865 1)" text-anchor="middle" class="tk">0</text>
<text transform="translate(347.5 266.5) scale(0.865 1)" text-anchor="middle" class="tk">0.5</text>
<text transform="translate(368.8 256.5) scale(0.865 1)" text-anchor="middle" class="tk">1</text>
<text x="271.6" y="279.4" text-anchor="middle" class="xl"><tspan class="it">x</tspan><tspan class="sb" dy="1.8">2</tspan></text>
<text x="354.4" y="280.65" text-anchor="middle" class="xl"><tspan class="it">x</tspan><tspan class="sb" dy="1.8">1</tspan></text>
<text x="394.55" y="162.5" class="ti" textLength="53.4" lengthAdjust="spacingAndGlyphs">Estimated</text><text x="452.25" y="162.5" class="ti it">L</text><text class="hat" text-anchor="middle" transform="translate(456.15 162.9) scale(1.5 1.3)">ˆ</text><text x="459.75" y="164.3" class="tsb">4</text><text x="466.15" y="162.5" class="ti">(</text><text x="469.25" y="162.5" class="ti it">x</text><text x="475.15" y="164.2" class="tsb">1</text><text x="479.25" y="162.5" class="ti">,</text><text x="485.85" y="162.5" class="ti it">x</text><text x="491.95" y="164.2" class="tsb">2</text><text x="497.55" y="162.5" class="ti">)</text>
<line x1="400.5" y1="186.8" x2="400.5" y2="230.8" stroke="#6a6a6a" stroke-width="0.75"/>
<line x1="399.1" y1="200.8" x2="400.5" y2="200.8" stroke="#444" stroke-width="0.6"/>
<text transform="translate(395.7 202.35) scale(0.865 1)" text-anchor="end" class="tk">0.5</text>
<line x1="399.1" y1="230.6" x2="400.5" y2="230.6" stroke="#444" stroke-width="0.6"/>
<text transform="translate(395.7 232.35) scale(0.865 1)" text-anchor="end" class="tk">0</text>
<line x1="400" y1="230.8" x2="442.5" y2="258.3" stroke="#2a2a2a" stroke-width="0.7"/>
<line x1="442.5" y1="258.3" x2="497" y2="237.55" stroke="#2a2a2a" stroke-width="0.7"/>
<line x1="442.5" y1="258.3" x2="443.84" y2="259.17" stroke="#2a2a2a" stroke-width="0.7"/>
<line x1="442.5" y1="258.3" x2="441" y2="258.87" stroke="#2a2a2a" stroke-width="0.7"/>
<line x1="469.75" y1="247.93" x2="471.09" y2="248.79" stroke="#2a2a2a" stroke-width="0.7"/>
<line x1="421.25" y1="244.55" x2="419.75" y2="245.12" stroke="#2a2a2a" stroke-width="0.7"/>
<line x1="497" y1="237.55" x2="498.34" y2="238.42" stroke="#2a2a2a" stroke-width="0.7"/>
<line x1="400" y1="230.8" x2="398.5" y2="231.37" stroke="#2a2a2a" stroke-width="0.7"/>
<polygon points="400,230.8 454.5,210.05 497,237.55 442.5,258.3" fill="#3e26a8"/>
<g><path d="M442.9 177.7 L460.1 177.7 L460.6 219.7 A9.1 4.14 0 0 1 442.4 219.7 Z" fill="url(#g8b)"/><polygon points="442.6,178.74 444.1,178.74 443.69,221.12 442.1,221.12" fill="url(#g8)"/><polygon points="443.54,179.67 445.04,179.67 444.68,222.09 443.09,222.09" fill="url(#g8)"/><polygon points="444.47,180.24 445.98,180.24 445.67,222.7 444.08,222.7" fill="url(#g8)"/><polygon points="445.41,180.66 446.92,180.66 446.66,223.14 445.07,223.14" fill="url(#g8)"/><polygon points="446.35,180.97 447.85,180.97 447.65,223.47 446.06,223.47" fill="url(#g8)"/><polygon points="447.28,181.21 448.79,181.21 448.64,223.72 447.05,223.72" fill="url(#g8)"/><polygon points="448.22,181.39 449.73,181.39 449.63,223.91 448.04,223.91" fill="url(#g8)"/><polygon points="449.16,181.51 450.66,181.51 450.62,224.04 449.03,224.04" fill="url(#g8)"/><polygon points="450.09,181.58 451.6,181.58 451.61,224.11 450.02,224.11" fill="url(#g8)"/><polygon points="451.03,181.6 452.54,181.6 452.59,224.14 451.01,224.14" fill="url(#g8)"/><polygon points="451.97,181.58 453.47,181.58 453.58,224.11 451.99,224.11" fill="url(#g8)"/><polygon points="452.91,181.51 454.41,181.51 454.57,224.04 452.98,224.04" fill="url(#g8)"/><polygon points="453.84,181.39 455.35,181.39 455.56,223.91 453.97,223.91" fill="url(#g8)"/><polygon points="454.78,181.21 456.28,181.21 456.55,223.72 454.96,223.72" fill="url(#g8)"/><polygon points="455.72,180.97 457.22,180.97 457.54,223.47 455.95,223.47" fill="url(#g8)"/><polygon points="456.65,180.66 458.16,180.66 458.53,223.14 456.94,223.14" fill="url(#g8)"/><polygon points="457.59,180.24 459.09,180.24 459.52,222.7 457.93,222.7" fill="url(#g8)"/><polygon points="458.53,179.67 460.03,179.67 460.51,222.09 458.92,222.09" fill="url(#g8)"/><polygon points="459.46,178.74 460.4,178.74 460.9,221.12 459.91,221.12" fill="url(#g8)"/><ellipse cx="451.5" cy="177.7" rx="8.9" ry="4.2" fill="#b0c636"/></g>
<text transform="translate(392.9 242.8) scale(0.865 1)" text-anchor="middle" class="tk">1</text>
<text transform="translate(409.75 256.8) scale(0.865 1)" text-anchor="middle" class="tk">0.5</text>
<text transform="translate(434.4 269.8) scale(0.865 1)" text-anchor="middle" class="tk">0</text>
<text transform="translate(448.5 271.05) scale(0.865 1)" text-anchor="middle" class="tk">0</text>
<text transform="translate(479.4 261.05) scale(0.865 1)" text-anchor="middle" class="tk">0.5</text>
<text transform="translate(502.4 250.55) scale(0.865 1)" text-anchor="middle" class="tk">1</text>
<text x="400.9" y="273.7" text-anchor="middle" class="xl"><tspan class="it">x</tspan><tspan class="sb" dy="1.8">2</tspan></text>
<text x="485.9" y="274.95" text-anchor="middle" class="xl"><tspan class="it">x</tspan><tspan class="sb" dy="1.8">1</tspan></text>
<text x="526.55" y="163" class="ti" textLength="53.4" lengthAdjust="spacingAndGlyphs">Estimated</text><text x="584.25" y="163" class="ti it">L</text><text class="hat" text-anchor="middle" transform="translate(588.15 163.4) scale(1.5 1.3)">ˆ</text><text x="591.75" y="164.8" class="tsb">5</text><text x="598.15" y="163" class="ti">(</text><text x="601.25" y="163" class="ti it">x</text><text x="607.15" y="164.7" class="tsb">1</text><text x="611.25" y="163" class="ti">,</text><text x="617.85" y="163" class="ti it">x</text><text x="623.95" y="164.7" class="tsb">2</text><text x="629.55" y="163" class="ti">)</text>
<line x1="530.5" y1="188.35" x2="530.5" y2="224.75" stroke="#6a6a6a" stroke-width="0.75"/>
<line x1="529.1" y1="193.35" x2="530.5" y2="193.35" stroke="#444" stroke-width="0.6"/>
<text transform="translate(525.9 194.8) scale(0.865 1)" text-anchor="end" class="tk">0.5</text>
<line x1="529.1" y1="224.45" x2="530.5" y2="224.45" stroke="#444" stroke-width="0.6"/>
<text transform="translate(525.9 226) scale(0.865 1)" text-anchor="end" class="tk">0</text>
<line x1="530.2" y1="224.55" x2="573" y2="253.05" stroke="#2a2a2a" stroke-width="0.7"/>
<line x1="573" y1="253.05" x2="629.8" y2="231.85" stroke="#2a2a2a" stroke-width="0.7"/>
<line x1="573" y1="253.05" x2="574.33" y2="253.94" stroke="#2a2a2a" stroke-width="0.7"/>
<line x1="573" y1="253.05" x2="571.5" y2="253.61" stroke="#2a2a2a" stroke-width="0.7"/>
<line x1="601.4" y1="242.45" x2="602.73" y2="243.34" stroke="#2a2a2a" stroke-width="0.7"/>
<line x1="551.6" y1="238.8" x2="550.1" y2="239.36" stroke="#2a2a2a" stroke-width="0.7"/>
<line x1="629.8" y1="231.85" x2="631.13" y2="232.74" stroke="#2a2a2a" stroke-width="0.7"/>
<line x1="530.2" y1="224.55" x2="528.7" y2="225.11" stroke="#2a2a2a" stroke-width="0.7"/>
<polygon points="530.2,224.55 586.6,203.35 629.8,231.85 573,253.05" fill="#3e26a8"/>
<g><path d="M600.9 195.3 L618.3 195.3 L618.9 229.59 A9.3 4.29 0 0 1 600.3 229.59 Z" fill="url(#g9b)"/><polygon points="600.6,196.38 602.11,196.38 601.61,231.06 600,231.06" fill="url(#g9)"/><polygon points="601.55,197.32 603.06,197.32 602.62,232.06 601.01,232.06" fill="url(#g9)"/><polygon points="602.49,197.91 604,197.91 603.63,232.69 602.02,232.69" fill="url(#g9)"/><polygon points="603.44,198.33 604.95,198.33 604.64,233.15 603.03,233.15" fill="url(#g9)"/><polygon points="604.39,198.66 605.9,198.66 605.65,233.49 604.04,233.49" fill="url(#g9)"/><polygon points="605.34,198.9 606.85,198.9 606.66,233.75 605.05,233.75" fill="url(#g9)"/><polygon points="606.28,199.08 607.79,199.08 607.67,233.94 606.06,233.94" fill="url(#g9)"/><polygon points="607.23,199.2 608.74,199.2 608.68,234.07 607.07,234.07" fill="url(#g9)"/><polygon points="608.18,199.28 609.69,199.28 609.69,234.15 608.08,234.15" fill="url(#g9)"/><polygon points="609.13,199.3 610.64,199.3 610.71,234.18 609.09,234.18" fill="url(#g9)"/><polygon points="610.07,199.28 611.58,199.28 611.72,234.15 610.11,234.15" fill="url(#g9)"/><polygon points="611.02,199.2 612.53,199.2 612.73,234.07 611.12,234.07" fill="url(#g9)"/><polygon points="611.97,199.08 613.48,199.08 613.74,233.94 612.13,233.94" fill="url(#g9)"/><polygon points="612.92,198.9 614.43,198.9 614.75,233.75 613.14,233.75" fill="url(#g9)"/><polygon points="613.86,198.66 615.37,198.66 615.76,233.49 614.15,233.49" fill="url(#g9)"/><polygon points="614.81,198.33 616.32,198.33 616.77,233.15 615.16,233.15" fill="url(#g9)"/><polygon points="615.76,197.91 617.27,197.91 617.78,232.69 616.17,232.69" fill="url(#g9)"/><polygon points="616.71,197.32 618.22,197.32 618.79,232.06 617.18,232.06" fill="url(#g9)"/><polygon points="617.65,196.38 618.6,196.38 619.2,231.06 618.19,231.06" fill="url(#g9)"/><ellipse cx="609.6" cy="195.3" rx="9" ry="4.3" fill="#48cb86"/></g>
<text transform="translate(522.5 236.75) scale(0.865 1)" text-anchor="middle" class="tk">1</text>
<text transform="translate(540.6 251.1) scale(0.865 1)" text-anchor="middle" class="tk">0.5</text>
<text transform="translate(565.75 265.55) scale(0.865 1)" text-anchor="middle" class="tk">0</text>
<text transform="translate(580 266.45) scale(0.865 1)" text-anchor="middle" class="tk">0</text>
<text transform="translate(612 255.55) scale(0.865 1)" text-anchor="middle" class="tk">0.5</text>
<text transform="translate(636.1 245.15) scale(0.865 1)" text-anchor="middle" class="tk">1</text>
<text x="532.25" y="268.25" text-anchor="middle" class="xl"><tspan class="it">x</tspan><tspan class="sb" dy="1.8">2</tspan></text>
<text x="617.5" y="270" text-anchor="middle" class="xl"><tspan class="it">x</tspan><tspan class="sb" dy="1.8">1</tspan></text>
<rect x="652.9" y="158.3" width="9.3" height="104.5" fill="url(#g10)" stroke="#3a3a3a" stroke-width="0.5"/>
<line x1="660.6" y1="158.5" x2="662.2" y2="158.5" stroke="#3a3a3a" stroke-width="0.5"/>
<text transform="translate(666.6 161.1) scale(0.85 1)" class="cb">1</text>
<line x1="660.6" y1="179.3" x2="662.2" y2="179.3" stroke="#3a3a3a" stroke-width="0.5"/>
<text transform="translate(666.6 181.9) scale(0.85 1)" class="cb">0.8</text>
<line x1="660.6" y1="200.3" x2="662.2" y2="200.3" stroke="#3a3a3a" stroke-width="0.5"/>
<text transform="translate(666.6 202.9) scale(0.85 1)" class="cb">0.6</text>
<line x1="660.6" y1="221.3" x2="662.2" y2="221.3" stroke="#3a3a3a" stroke-width="0.5"/>
<text transform="translate(666.6 223.9) scale(0.85 1)" class="cb">0.4</text>
<line x1="660.6" y1="242.3" x2="662.2" y2="242.3" stroke="#3a3a3a" stroke-width="0.5"/>
<text transform="translate(666.6 244.9) scale(0.85 1)" class="cb">0.2</text>
<line x1="660.6" y1="263.2" x2="662.2" y2="263.2" stroke="#3a3a3a" stroke-width="0.5"/>
<text transform="translate(666.6 265.8) scale(0.85 1)" class="cb">0</text>
<text x="8.9" y="327.3" class="ti" textLength="52.2" lengthAdjust="spacingAndGlyphs">Difference</text><text x="65.1" y="327.3" class="ti it">L</text><text class="hat" text-anchor="middle" transform="translate(69 327.7) scale(1.5 1.3)">ˆ</text><line x1="65.4" y1="314.8" x2="72.7" y2="314.8" stroke="#000" stroke-width="0.45"/><line x1="65.4" y1="313.5" x2="72.7" y2="313.5" stroke="#000" stroke-width="0.45"/><text x="72.6" y="329.1" class="tsb">1</text><text x="81.1" y="327.3" class="ti" textLength="8.3" lengthAdjust="spacingAndGlyphs">−</text><text x="93.1" y="327.3" class="ti it">L</text><text class="hat" text-anchor="middle" transform="translate(97 327.7) scale(1.5 1.3)">ˆ</text><text x="100.6" y="329.1" class="tsb">1</text>
<line x1="9" y1="355.4" x2="50.75" y2="383.15" stroke="#2a2a2a" stroke-width="0.7"/>
<line x1="50.75" y1="383.15" x2="106.25" y2="362.9" stroke="#2a2a2a" stroke-width="0.7"/>
<line x1="50.75" y1="383.15" x2="52.08" y2="384.04" stroke="#2a2a2a" stroke-width="0.7"/>
<line x1="50.75" y1="383.15" x2="49.25" y2="383.7" stroke="#2a2a2a" stroke-width="0.7"/>
<line x1="78.5" y1="373.02" x2="79.83" y2="373.91" stroke="#2a2a2a" stroke-width="0.7"/>
<line x1="29.88" y1="369.27" x2="28.37" y2="369.82" stroke="#2a2a2a" stroke-width="0.7"/>
<line x1="106.25" y1="362.9" x2="107.58" y2="363.79" stroke="#2a2a2a" stroke-width="0.7"/>
<line x1="9" y1="355.4" x2="7.5" y2="355.95" stroke="#2a2a2a" stroke-width="0.7"/>
<polygon points="9,354 63.75,333.5 106.25,361.5 50.75,381.75" fill="#35c59a"/>
<g clip-path="url(#cp1)"><g filter="url(#bl)">
<polygon points="51.44,379.35 65.73,374.56 74.74,369.13 87.93,366.46 101.39,361.12 91.5,353.99 80.38,349.45 74.81,342.88 63.54,337.11 49.94,341.21 40.92,346.65 27.74,349.31 15.25,354.73 24.3,361.31 35.42,365.85 41,372.41" fill="#0cb9c6"/>
<polygon points="57.62,357.75 71.06,345.54 51.61,344.04" fill="#2fc4a2"/>
<polygon points="57.62,357.75 82.51,364.57 85.26,354.98" fill="#2fc4a2"/>
<polygon points="57.62,357.75 32.74,350.93 29.99,360.52" fill="#2fc4a2"/>
<polygon points="57.62,357.75 44.19,369.96 63.64,371.46" fill="#2fc4a2"/>
<ellipse cx="53.5" cy="372.15" rx="10.3" ry="5" fill="#0cb9c6"/>
<ellipse cx="53.5" cy="372.15" rx="8.6" ry="4.1" fill="#12abd6"/>
<ellipse cx="28.45" cy="355.5" rx="10.3" ry="5" fill="#0cb9c6"/>
<ellipse cx="28.45" cy="355.5" rx="8.6" ry="4.1" fill="#12abd6"/>
<ellipse cx="61.75" cy="343.35" rx="10.3" ry="5" fill="#0cb9c6"/>
<ellipse cx="61.75" cy="343.35" rx="8.6" ry="4.1" fill="#12abd6"/>
<ellipse cx="86.8" cy="360" rx="10.3" ry="5" fill="#0cb9c6"/>
<ellipse cx="86.8" cy="360" rx="8.6" ry="4.1" fill="#12abd6"/>
<ellipse cx="57.62" cy="357.75" rx="0.9" ry="1.6" fill="#8fd060"/>
</g></g>
<text transform="translate(1.7 368.1) scale(0.865 1)" text-anchor="middle" class="tk">1</text>
<text transform="translate(18.5 381.8) scale(0.865 1)" text-anchor="middle" class="tk">0.5</text>
<text transform="translate(43.5 395.8) scale(0.865 1)" text-anchor="middle" class="tk">0</text>
<text transform="translate(57.5 396.8) scale(0.865 1)" text-anchor="middle" class="tk">0</text>
<text transform="translate(89 386.3) scale(0.865 1)" text-anchor="middle" class="tk">0.5</text>
<text transform="translate(112 375.6) scale(0.865 1)" text-anchor="middle" class="tk">1</text>
<text x="10.2" y="399.2" text-anchor="middle" class="xl"><tspan class="it">x</tspan><tspan class="sb" dy="1.8">2</tspan></text>
<text x="94.7" y="400.5" text-anchor="middle" class="xl"><tspan class="it">x</tspan><tspan class="sb" dy="1.8">1</tspan></text>
<text x="139.4" y="324.8" class="ti" textLength="52.2" lengthAdjust="spacingAndGlyphs">Difference</text><text x="195.6" y="324.8" class="ti it">L</text><text class="hat" text-anchor="middle" transform="translate(199.5 325.2) scale(1.5 1.3)">ˆ</text><line x1="195.9" y1="312.3" x2="203.2" y2="312.3" stroke="#000" stroke-width="0.45"/><line x1="195.9" y1="311" x2="203.2" y2="311" stroke="#000" stroke-width="0.45"/><text x="203.1" y="326.6" class="tsb">2</text><text x="211.6" y="324.8" class="ti" textLength="8.3" lengthAdjust="spacingAndGlyphs">−</text><text x="223.6" y="324.8" class="ti it">L</text><text class="hat" text-anchor="middle" transform="translate(227.5 325.2) scale(1.5 1.3)">ˆ</text><text x="231.1" y="326.6" class="tsb">2</text>
<line x1="140.3" y1="358.5" x2="181.2" y2="386" stroke="#2a2a2a" stroke-width="0.7"/>
<line x1="181.2" y1="386" x2="235.4" y2="365.1" stroke="#2a2a2a" stroke-width="0.7"/>
<line x1="181.2" y1="386" x2="182.53" y2="386.89" stroke="#2a2a2a" stroke-width="0.7"/>
<line x1="181.2" y1="386" x2="179.71" y2="386.58" stroke="#2a2a2a" stroke-width="0.7"/>
<line x1="208.3" y1="375.55" x2="209.63" y2="376.44" stroke="#2a2a2a" stroke-width="0.7"/>
<line x1="160.75" y1="372.25" x2="159.26" y2="372.83" stroke="#2a2a2a" stroke-width="0.7"/>
<line x1="235.4" y1="365.1" x2="236.73" y2="365.99" stroke="#2a2a2a" stroke-width="0.7"/>
<line x1="140.3" y1="358.5" x2="138.81" y2="359.08" stroke="#2a2a2a" stroke-width="0.7"/>
<polygon points="140.3,356.7 193.75,336 235.4,363.3 181.2,384.2" fill="#2d7ef6"/>
<g filter="url(#bl2)"><ellipse cx="183.8" cy="372.9" rx="9.1" ry="5.3" fill="url(#g11)"/><rect x="180.15" y="367.4" width="0.9" height="1.6" fill="#b8cc4a" opacity="0.85"/><rect x="183.05" y="366.3" width="0.9" height="2.4" fill="#e2c03a" opacity="0.85"/><rect x="185.05" y="366.4" width="0.9" height="2.3" fill="#e2c03a" opacity="0.85"/><rect x="188.05" y="367.6" width="0.9" height="1.6" fill="#b8cc4a" opacity="0.85"/><rect x="178.35" y="372.8" width="0.9" height="2.8" fill="#e2c03a" opacity="0.8"/><rect x="181.05" y="373" width="0.9" height="3" fill="#e2c03a" opacity="0.8"/><rect x="183.05" y="373.8" width="0.9" height="2.4" fill="#b8cc4a" opacity="0.8"/><rect x="186.15" y="373" width="0.9" height="2.8" fill="#e2c03a" opacity="0.8"/></g>
<text transform="translate(132.1 371) scale(0.865 1)" text-anchor="middle" class="tk">1</text>
<text transform="translate(149.1 384.7) scale(0.865 1)" text-anchor="middle" class="tk">0.5</text>
<text transform="translate(174 398.3) scale(0.865 1)" text-anchor="middle" class="tk">0</text>
<text transform="translate(188.1 399.2) scale(0.865 1)" text-anchor="middle" class="tk">0</text>
<text transform="translate(218.75 389) scale(0.865 1)" text-anchor="middle" class="tk">0.5</text>
<text transform="translate(241.4 378.25) scale(0.865 1)" text-anchor="middle" class="tk">1</text>
<text x="140.4" y="401.65" text-anchor="middle" class="xl"><tspan class="it">x</tspan><tspan class="sb" dy="1.8">2</tspan></text>
<text x="225.9" y="402.9" text-anchor="middle" class="xl"><tspan class="it">x</tspan><tspan class="sb" dy="1.8">1</tspan></text>
<line x1="139.6" y1="349" x2="139.6" y2="359.7" stroke="#555" stroke-width="0.7"/>
<line x1="138.3" y1="349.3" x2="139.6" y2="349.3" stroke="#444" stroke-width="0.7"/>
<line x1="138.3" y1="352.3" x2="139.6" y2="352.3" stroke="#444" stroke-width="0.7"/>
<line x1="138.3" y1="355.3" x2="139.6" y2="355.3" stroke="#444" stroke-width="0.7"/>
<line x1="138.3" y1="359.4" x2="139.6" y2="359.4" stroke="#444" stroke-width="0.7"/>
<text transform="translate(134.4 351.2) scale(0.865 1)" text-anchor="end" class="tk">0.1</text>
<text transform="translate(135 357.3) scale(0.865 1)" text-anchor="end" class="tk">0</text>
<text x="269.4" y="326" class="ti" textLength="52.2" lengthAdjust="spacingAndGlyphs">Difference</text><text x="325.6" y="326" class="ti it">L</text><text class="hat" text-anchor="middle" transform="translate(329.5 326.4) scale(1.5 1.3)">ˆ</text><line x1="325.9" y1="313.5" x2="333.2" y2="313.5" stroke="#000" stroke-width="0.45"/><line x1="325.9" y1="312.2" x2="333.2" y2="312.2" stroke="#000" stroke-width="0.45"/><text x="333.1" y="327.8" class="tsb">3</text><text x="341.6" y="326" class="ti" textLength="8.3" lengthAdjust="spacingAndGlyphs">−</text><text x="353.6" y="326" class="ti it">L</text><text class="hat" text-anchor="middle" transform="translate(357.5 326.4) scale(1.5 1.3)">ˆ</text><text x="361.1" y="327.8" class="tsb">3</text>
<line x1="269.9" y1="358.1" x2="311.8" y2="385.5" stroke="#2a2a2a" stroke-width="0.7"/>
<line x1="311.8" y1="385.5" x2="366.2" y2="364.7" stroke="#2a2a2a" stroke-width="0.7"/>
<line x1="311.8" y1="385.5" x2="313.14" y2="386.38" stroke="#2a2a2a" stroke-width="0.7"/>
<line x1="311.8" y1="385.5" x2="310.31" y2="386.07" stroke="#2a2a2a" stroke-width="0.7"/>
<line x1="339" y1="375.1" x2="340.34" y2="375.98" stroke="#2a2a2a" stroke-width="0.7"/>
<line x1="290.85" y1="371.8" x2="289.36" y2="372.37" stroke="#2a2a2a" stroke-width="0.7"/>
<line x1="366.2" y1="364.7" x2="367.54" y2="365.58" stroke="#2a2a2a" stroke-width="0.7"/>
<line x1="269.9" y1="358.1" x2="268.41" y2="358.67" stroke="#2a2a2a" stroke-width="0.7"/>
<polygon points="269.9,356.3 324.4,335.4 366.2,362.9 311.8,383.7" fill="#2d7ef6"/>
<g filter="url(#bl2)"><ellipse cx="288.8" cy="356.5" rx="9" ry="5.3" fill="url(#g12)"/><rect x="285.75" y="350" width="0.9" height="1.4" fill="#b8cc4a" opacity="0.85"/><rect x="283.65" y="357" width="0.9" height="1.2" fill="#e2c03a" opacity="0.8"/><rect x="286.35" y="358" width="0.9" height="1" fill="#7ccc60" opacity="0.8"/></g>
<text transform="translate(262.5 369.5) scale(0.865 1)" text-anchor="middle" class="tk">1</text>
<text transform="translate(279.4 383.25) scale(0.865 1)" text-anchor="middle" class="tk">0.5</text>
<text transform="translate(304 396.5) scale(0.865 1)" text-anchor="middle" class="tk">0</text>
<text transform="translate(318.5 397.5) scale(0.865 1)" text-anchor="middle" class="tk">0</text>
<text transform="translate(349.4 387.75) scale(0.865 1)" text-anchor="middle" class="tk">0.5</text>
<text transform="translate(371.9 376.5) scale(0.865 1)" text-anchor="middle" class="tk">1</text>
<text x="270.9" y="400.4" text-anchor="middle" class="xl"><tspan class="it">x</tspan><tspan class="sb" dy="1.8">2</tspan></text>
<text x="355.9" y="401.65" text-anchor="middle" class="xl"><tspan class="it">x</tspan><tspan class="sb" dy="1.8">1</tspan></text>
<line x1="269.6" y1="351.2" x2="269.6" y2="357.6" stroke="#555" stroke-width="0.7"/>
<line x1="268.3" y1="351.5" x2="269.6" y2="351.5" stroke="#444" stroke-width="0.7"/>
<text transform="translate(265.2 357) scale(0.865 1)" text-anchor="end" class="tk">0</text>
<text x="399.9" y="324.8" class="ti" textLength="52.2" lengthAdjust="spacingAndGlyphs">Difference</text><text x="456.1" y="324.8" class="ti it">L</text><text class="hat" text-anchor="middle" transform="translate(460 325.2) scale(1.5 1.3)">ˆ</text><line x1="456.4" y1="312.3" x2="463.7" y2="312.3" stroke="#000" stroke-width="0.45"/><line x1="456.4" y1="311" x2="463.7" y2="311" stroke="#000" stroke-width="0.45"/><text x="463.6" y="326.6" class="tsb">4</text><text x="472.1" y="324.8" class="ti" textLength="8.3" lengthAdjust="spacingAndGlyphs">−</text><text x="484.1" y="324.8" class="ti it">L</text><text class="hat" text-anchor="middle" transform="translate(488 325.2) scale(1.5 1.3)">ˆ</text><text x="491.6" y="326.6" class="tsb">4</text>
<line x1="400.3" y1="359.1" x2="441.8" y2="386" stroke="#2a2a2a" stroke-width="0.7"/>
<line x1="441.8" y1="386" x2="496.3" y2="365.4" stroke="#2a2a2a" stroke-width="0.7"/>
<line x1="441.8" y1="386" x2="443.14" y2="386.87" stroke="#2a2a2a" stroke-width="0.7"/>
<line x1="441.8" y1="386" x2="440.3" y2="386.57" stroke="#2a2a2a" stroke-width="0.7"/>
<line x1="469.05" y1="375.7" x2="470.39" y2="376.57" stroke="#2a2a2a" stroke-width="0.7"/>
<line x1="421.05" y1="372.55" x2="419.55" y2="373.12" stroke="#2a2a2a" stroke-width="0.7"/>
<line x1="496.3" y1="365.4" x2="497.64" y2="366.27" stroke="#2a2a2a" stroke-width="0.7"/>
<line x1="400.3" y1="359.1" x2="398.8" y2="359.67" stroke="#2a2a2a" stroke-width="0.7"/>
<polygon points="400.3,357.3 454.3,336 496.3,363.6 441.8,384.2" fill="#2d7ef6"/>
<g filter="url(#bl2)"><ellipse cx="452" cy="344.1" rx="8.9" ry="5.3" fill="url(#g13)"/><rect x="448.55" y="337" width="0.9" height="2" fill="#e2c03a" opacity="0.85"/><rect x="451.75" y="337.3" width="0.9" height="1.7" fill="#b8cc4a" opacity="0.85"/><rect x="453.15" y="337.3" width="0.9" height="1.7" fill="#b8cc4a" opacity="0.85"/><rect x="455.95" y="337.6" width="0.9" height="2" fill="#e2c03a" opacity="0.85"/><rect x="446.85" y="345.9" width="0.9" height="0.9" fill="#b8cc4a" opacity="0.8"/><rect x="449.15" y="346" width="0.9" height="1" fill="#e2c03a" opacity="0.8"/><rect x="451.25" y="346.1" width="0.9" height="1" fill="#e2c03a" opacity="0.8"/><rect x="454.15" y="346" width="0.9" height="0.9" fill="#b8cc4a" opacity="0.8"/></g>
<text transform="translate(392.5 370.75) scale(0.865 1)" text-anchor="middle" class="tk">1</text>
<text transform="translate(409.4 384.5) scale(0.865 1)" text-anchor="middle" class="tk">0.5</text>
<text transform="translate(434.4 397.75) scale(0.865 1)" text-anchor="middle" class="tk">0</text>
<text transform="translate(448.5 398.75) scale(0.865 1)" text-anchor="middle" class="tk">0</text>
<text transform="translate(479.4 388.75) scale(0.865 1)" text-anchor="middle" class="tk">0.5</text>
<text transform="translate(502.9 377.75) scale(0.865 1)" text-anchor="middle" class="tk">1</text>
<text x="400.9" y="401.65" text-anchor="middle" class="xl"><tspan class="it">x</tspan><tspan class="sb" dy="1.8">2</tspan></text>
<text x="486.25" y="402.9" text-anchor="middle" class="xl"><tspan class="it">x</tspan><tspan class="sb" dy="1.8">1</tspan></text>
<line x1="399.9" y1="349.3" x2="399.9" y2="359" stroke="#555" stroke-width="0.7"/>
<line x1="398.6" y1="349.6" x2="399.9" y2="349.6" stroke="#444" stroke-width="0.7"/>
<line x1="398.6" y1="352.4" x2="399.9" y2="352.4" stroke="#444" stroke-width="0.7"/>
<line x1="398.6" y1="355.3" x2="399.9" y2="355.3" stroke="#444" stroke-width="0.7"/>
<line x1="398.6" y1="358.8" x2="399.9" y2="358.8" stroke="#444" stroke-width="0.7"/>
<text transform="translate(394.8 351.7) scale(0.865 1)" text-anchor="end" class="tk">0.1</text>
<text transform="translate(395.7 357.5) scale(0.865 1)" text-anchor="end" class="tk">0</text>
<text x="531.9" y="323.6" class="ti" textLength="52.2" lengthAdjust="spacingAndGlyphs">Difference</text><text x="588.1" y="323.6" class="ti it">L</text><text class="hat" text-anchor="middle" transform="translate(592 324) scale(1.5 1.3)">ˆ</text><line x1="588.4" y1="311.1" x2="595.7" y2="311.1" stroke="#000" stroke-width="0.45"/><line x1="588.4" y1="309.8" x2="595.7" y2="309.8" stroke="#000" stroke-width="0.45"/><text x="595.6" y="325.4" class="tsb">5</text><text x="604.1" y="323.6" class="ti" textLength="8.3" lengthAdjust="spacingAndGlyphs">−</text><text x="616.1" y="323.6" class="ti it">L</text><text class="hat" text-anchor="middle" transform="translate(620 324) scale(1.5 1.3)">ˆ</text><text x="623.6" y="325.4" class="tsb">5</text>
<line x1="530" y1="354.3" x2="573.75" y2="383.05" stroke="#2a2a2a" stroke-width="0.7"/>
<line x1="573.75" y1="383.05" x2="630" y2="361.3" stroke="#2a2a2a" stroke-width="0.7"/>
<line x1="573.75" y1="383.05" x2="575.09" y2="383.93" stroke="#2a2a2a" stroke-width="0.7"/>
<line x1="573.75" y1="383.05" x2="572.26" y2="383.63" stroke="#2a2a2a" stroke-width="0.7"/>
<line x1="601.88" y1="372.18" x2="603.21" y2="373.05" stroke="#2a2a2a" stroke-width="0.7"/>
<line x1="551.88" y1="368.68" x2="550.38" y2="369.25" stroke="#2a2a2a" stroke-width="0.7"/>
<line x1="630" y1="361.3" x2="631.34" y2="362.18" stroke="#2a2a2a" stroke-width="0.7"/>
<line x1="530" y1="354.3" x2="528.51" y2="354.88" stroke="#2a2a2a" stroke-width="0.7"/>
<polygon points="530,353.5 586.75,332.25 630,360.5 573.75,382.25" fill="#2d7ef6"/>
<g filter="url(#bl2)"><ellipse cx="609.7" cy="357.9" rx="9.3" ry="5.2" fill="url(#g14)"/><ellipse cx="609.7" cy="357.3" rx="8.7" ry="4.1" fill="none" stroke="#32c49a" stroke-width="0.8"/><rect x="611.25" y="352" width="0.9" height="1" fill="#6ccc70" opacity="0.85"/><rect x="613.85" y="352.1" width="0.9" height="1.2" fill="#6ccc70" opacity="0.85"/><rect x="611.85" y="359.9" width="0.9" height="1" fill="#8ccc58" opacity="0.8"/><rect x="608.85" y="360.5" width="0.9" height="0.8" fill="#6ccc70" opacity="0.8"/></g>
<text transform="translate(522.5 366.5) scale(0.865 1)" text-anchor="middle" class="tk">1</text>
<text transform="translate(540.6 380.75) scale(0.865 1)" text-anchor="middle" class="tk">0.5</text>
<text transform="translate(565.75 394.5) scale(0.865 1)" text-anchor="middle" class="tk">0</text>
<text transform="translate(580 395.75) scale(0.865 1)" text-anchor="middle" class="tk">0</text>
<text transform="translate(612.25 384.5) scale(0.865 1)" text-anchor="middle" class="tk">0.5</text>
<text transform="translate(636.25 374) scale(0.865 1)" text-anchor="middle" class="tk">1</text>
<text x="532.25" y="397.9" text-anchor="middle" class="xl"><tspan class="it">x</tspan><tspan class="sb" dy="1.8">2</tspan></text>
<text x="617.5" y="399.65" text-anchor="middle" class="xl"><tspan class="it">x</tspan><tspan class="sb" dy="1.8">1</tspan></text>
<line x1="530" y1="350.5" x2="530" y2="354" stroke="#555" stroke-width="0.7"/>
<rect x="652.9" y="303" width="9.3" height="105.5" fill="url(#g15)" stroke="#3a3a3a" stroke-width="0.5"/>
<line x1="660.6" y1="311" x2="662.2" y2="311" stroke="#3a3a3a" stroke-width="0.5"/>
<text transform="translate(666.6 313.6) scale(0.85 1)" class="cb">0.08</text>
<line x1="660.6" y1="326" x2="662.2" y2="326" stroke="#3a3a3a" stroke-width="0.5"/>
<text transform="translate(666.6 328.6) scale(0.85 1)" class="cb">0.06</text>
<line x1="660.6" y1="341" x2="662.2" y2="341" stroke="#3a3a3a" stroke-width="0.5"/>
<text transform="translate(666.6 343.6) scale(0.85 1)" class="cb">0.04</text>
<line x1="660.6" y1="356" x2="662.2" y2="356" stroke="#3a3a3a" stroke-width="0.5"/>
<text transform="translate(666.6 358.6) scale(0.85 1)" class="cb">0.02</text>
<line x1="660.6" y1="371" x2="662.2" y2="371" stroke="#3a3a3a" stroke-width="0.5"/>
<text transform="translate(666.6 373.6) scale(0.85 1)" class="cb">0</text>
<line x1="660.6" y1="386.2" x2="662.2" y2="386.2" stroke="#3a3a3a" stroke-width="0.5"/>
<text transform="translate(666.6 388.8) scale(0.85 1)" class="cb">-0.02</text>
<line x1="660.6" y1="401.2" x2="662.2" y2="401.2" stroke="#3a3a3a" stroke-width="0.5"/>
<text transform="translate(666.6 403.8) scale(0.85 1)" class="cb">-0.04</text>
</svg>
</body></html>
